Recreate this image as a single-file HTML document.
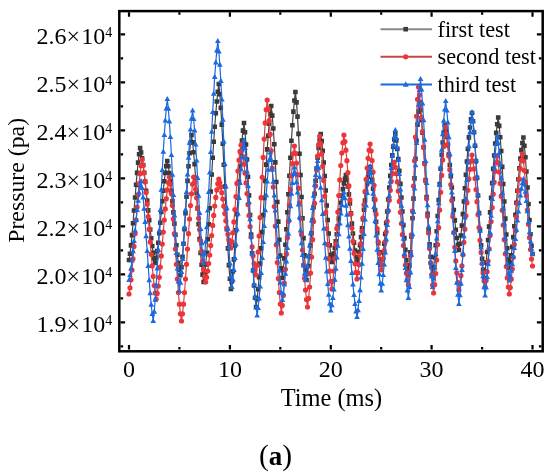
<!DOCTYPE html>
<html><head><meta charset="utf-8"><style>
html,body{margin:0;padding:0;background:#fff;width:550px;height:476px;overflow:hidden}
svg{display:block;filter:blur(0.3px)}
</style></head><body>
<svg width="550" height="476" viewBox="0 0 550 476">
<g fill="none" stroke-linejoin="round">
<path d="M129 260 130 253.8 131 245.4 132 235.1 133 223.3 134 210.5 135.1 197.5 136.1 184.7 137.1 172.9 138.1 162.6 139.1 154.2 140.1 148 141.1 152.5 142.1 158.2 143.1 165 144.1 172.8 145.1 181.5 146.1 190.9 147.2 200.6 148.2 210.4 149.2 220.1 150.2 229.5 151.2 238.2 152.2 246 153.2 252.8 154.2 258.5 155.2 263 156.2 257.9 157.2 251.1 158.3 242.8 159.3 233.3 160.3 222.8 161.3 212 162.3 201.2 163.3 190.7 164.3 181.2 165.3 172.9 166.3 166.1 167.3 161 168.3 166.2 169.3 173 170.4 181.3 171.4 190.8 172.4 201.3 173.4 212.4 174.4 223.6 175.4 234.7 176.4 245.2 177.4 254.7 178.4 263 179.4 269.8 180.4 275 181.5 267.2 182.5 256.7 183.5 243.8 184.5 229.1 185.5 213.2 186.5 196.8 187.5 180.9 188.5 166.2 189.5 153.3 190.5 142.8 191.5 135 192.6 142.4 193.6 152.2 194.6 164.1 195.6 177.9 196.6 192.9 197.6 208.5 198.6 224.1 199.6 239.1 200.6 252.9 201.6 264.8 202.6 274.6 203.6 282 204.7 274.3 205.7 264.5 206.7 252.7 207.7 239.2 208.7 224.2 209.7 208.2 210.7 191.5 211.7 174.5 212.7 157.8 213.7 141.7 214.7 126.8 215.8 113.3 216.8 101.5 217.8 91.7 218.8 84 219.8 94.3 220.8 107.9 221.8 124.6 222.8 143.8 223.8 164.7 224.8 186.5 225.8 208.3 226.8 229.2 227.9 248.4 228.9 265.1 229.9 278.7 230.9 289 231.9 281.4 232.9 271.5 233.9 259.4 234.9 245.5 235.9 230.3 236.9 214.2 237.9 197.8 239 181.7 240 166.5 241 152.6 242 140.5 243 130.6 244 123 245 132.2 246 144.5 247 159.5 248 176.7 249 195.4 250.1 215 251.1 234.6 252.1 253.3 253.1 270.5 254.1 285.5 255.1 297.8 256.1 307 257.1 299.2 258.1 289.3 259.1 277.3 260.1 263.6 261.1 248.4 262.2 232.1 263.2 215.1 264.2 197.9 265.2 180.9 266.2 164.6 267.2 149.4 268.2 135.7 269.2 123.7 270.2 113.8 271.2 106 272.2 115.6 273.3 128.5 274.3 144.3 275.3 162.4 276.3 182 277.3 202 278.3 221.6 279.3 239.7 280.3 255.5 281.3 268.4 282.3 278 283.3 269.5 284.3 258.4 285.4 244.8 286.4 229.3 287.4 212.2 288.4 194.2 289.4 175.8 290.4 157.8 291.4 140.7 292.4 125.2 293.4 111.6 294.4 100.5 295.4 92 296.5 102.4 297.5 116.6 298.5 133.9 299.5 153.7 300.5 175 301.5 197 302.5 218.3 303.5 238.1 304.5 255.4 305.5 269.6 306.5 280 307.5 273.9 308.6 266 309.6 256.4 310.6 245.4 311.6 233.3 312.6 220.3 313.6 207 314.6 193.7 315.6 180.7 316.6 168.6 317.6 157.6 318.6 148 319.7 140.1 320.7 134 321.7 141.1 322.7 150.7 323.7 162.5 324.7 176 325.7 190.5 326.7 205.5 327.7 220 328.7 233.5 329.7 245.3 330.8 254.9 331.8 262 332.8 258.3 333.8 253.6 334.8 247.9 335.8 241.4 336.8 234.2 337.8 226.4 338.8 218.5 339.8 210.6 340.8 202.8 341.8 195.6 342.9 189.1 343.9 183.4 344.9 178.7 345.9 175 346.9 179.8 347.9 186.4 348.9 194.4 349.9 203.5 350.9 213.4 351.9 223.6 352.9 233.5 354 242.6 355 250.6 356 257.2 357 262 358 257.7 359 252 360 245.1 361 237.1 362 228.4 363 219.2 364 209.8 365 200.6 366.1 191.9 367.1 183.9 368.1 177 369.1 171.3 370.1 167 371.1 172.4 372.1 179.8 373.1 188.8 374.1 199.1 375.1 210.3 376.1 221.7 377.2 232.9 378.2 243.2 379.2 252.2 380.2 259.6 381.2 265 382.2 259.5 383.2 252.4 384.2 243.8 385.2 234 386.2 223.1 387.2 211.5 388.2 199.5 389.3 187.5 390.3 175.9 391.3 165 392.3 155.2 393.3 146.6 394.3 139.5 395.3 134 396.3 140.4 397.3 148.9 398.3 159.1 399.3 170.9 400.4 183.9 401.4 197.5 402.4 211.5 403.4 225.1 404.4 238.1 405.4 249.9 406.4 260.1 407.4 268.6 408.4 275 409.4 265.4 410.4 252.4 411.4 236.5 412.5 218.3 413.5 198.6 414.5 178.4 415.5 158.7 416.5 140.5 417.5 124.6 418.5 111.6 419.5 102 420.5 109.9 421.5 120.3 422.5 132.8 423.6 147.3 424.6 163.2 425.6 180 426.6 197 427.6 213.8 428.6 229.7 429.6 244.2 430.6 256.7 431.6 267.1 432.6 275 433.6 267.5 434.7 257.5 435.7 245.3 436.7 231.3 437.7 216 438.7 200 439.7 184 440.7 168.8 441.7 154.7 442.7 142.5 443.7 132.5 444.7 125 445.7 130.2 446.8 137 447.8 145.2 448.8 154.6 449.8 165 450.8 176.1 451.8 187.5 452.8 198.9 453.8 210 454.8 220.4 455.8 229.8 456.8 238 457.9 244.8 458.9 250 459.9 243.7 460.9 235.5 461.9 225.6 462.9 214.1 463.9 201.5 464.9 188.3 465.9 174.7 466.9 161.5 467.9 148.9 468.9 137.4 470 127.5 471 119.3 472 113 473 121.3 474 132.3 475 145.7 476 161.1 477 177.9 478 195.5 479 213.1 480 229.9 481.1 245.3 482.1 258.7 483.1 269.7 484.1 278 485.1 271.3 486.1 262.6 487.1 252 488.1 240 489.1 226.6 490.1 212.4 491.1 197.8 492.2 183.1 493.2 168.9 494.2 155.5 495.2 143.5 496.2 132.9 497.2 124.2 498.2 117.5 499.2 125.9 500.2 137.2 501.2 151 502.2 166.9 503.2 184 504.3 201.5 505.3 218.6 506.3 234.5 507.3 248.3 508.3 259.6 509.3 268 510.3 262.5 511.3 255.4 512.3 246.9 513.3 237.1 514.3 226.2 515.4 214.7 516.4 202.7 517.4 190.8 518.4 179.3 519.4 168.4 520.4 158.6 521.4 150.1 522.4 143 523.4 137.5 524.4 145.7 525.4 157.3 526.4 171.5 527.5 187.5 528.5 204 529.5 220 530.5 234.2 531.5 245.8 532.5 254" stroke="#444" stroke-width="1.2"/>
<path d="M126.7 257.7h4.6v4.6h-4.6zM127.7 251.5h4.6v4.6h-4.6zM128.7 243.1h4.6v4.6h-4.6zM129.7 232.8h4.6v4.6h-4.6zM130.7 221h4.6v4.6h-4.6zM131.7 208.2h4.6v4.6h-4.6zM132.8 195.2h4.6v4.6h-4.6zM133.8 182.4h4.6v4.6h-4.6zM134.8 170.6h4.6v4.6h-4.6zM135.8 160.3h4.6v4.6h-4.6zM136.8 151.9h4.6v4.6h-4.6zM137.8 145.7h4.6v4.6h-4.6zM138.8 150.2h4.6v4.6h-4.6zM139.8 155.9h4.6v4.6h-4.6zM140.8 162.7h4.6v4.6h-4.6zM141.8 170.5h4.6v4.6h-4.6zM142.8 179.2h4.6v4.6h-4.6zM143.8 188.6h4.6v4.6h-4.6zM144.9 198.3h4.6v4.6h-4.6zM145.9 208.1h4.6v4.6h-4.6zM146.9 217.8h4.6v4.6h-4.6zM147.9 227.2h4.6v4.6h-4.6zM148.9 235.9h4.6v4.6h-4.6zM149.9 243.7h4.6v4.6h-4.6zM150.9 250.5h4.6v4.6h-4.6zM151.9 256.2h4.6v4.6h-4.6zM152.9 260.7h4.6v4.6h-4.6zM153.9 255.6h4.6v4.6h-4.6zM154.9 248.8h4.6v4.6h-4.6zM156 240.5h4.6v4.6h-4.6zM157 231h4.6v4.6h-4.6zM158 220.5h4.6v4.6h-4.6zM159 209.7h4.6v4.6h-4.6zM160 198.9h4.6v4.6h-4.6zM161 188.4h4.6v4.6h-4.6zM162 178.9h4.6v4.6h-4.6zM163 170.6h4.6v4.6h-4.6zM164 163.8h4.6v4.6h-4.6zM165 158.7h4.6v4.6h-4.6zM166 163.9h4.6v4.6h-4.6zM167 170.7h4.6v4.6h-4.6zM168.1 179h4.6v4.6h-4.6zM169.1 188.5h4.6v4.6h-4.6zM170.1 199h4.6v4.6h-4.6zM171.1 210.1h4.6v4.6h-4.6zM172.1 221.3h4.6v4.6h-4.6zM173.1 232.4h4.6v4.6h-4.6zM174.1 242.9h4.6v4.6h-4.6zM175.1 252.4h4.6v4.6h-4.6zM176.1 260.7h4.6v4.6h-4.6zM177.1 267.5h4.6v4.6h-4.6zM178.1 272.7h4.6v4.6h-4.6zM179.2 264.9h4.6v4.6h-4.6zM180.2 254.4h4.6v4.6h-4.6zM181.2 241.5h4.6v4.6h-4.6zM182.2 226.8h4.6v4.6h-4.6zM183.2 210.9h4.6v4.6h-4.6zM184.2 194.5h4.6v4.6h-4.6zM185.2 178.6h4.6v4.6h-4.6zM186.2 163.9h4.6v4.6h-4.6zM187.2 151h4.6v4.6h-4.6zM188.2 140.5h4.6v4.6h-4.6zM189.2 132.7h4.6v4.6h-4.6zM190.3 140.1h4.6v4.6h-4.6zM191.3 149.9h4.6v4.6h-4.6zM192.3 161.8h4.6v4.6h-4.6zM193.3 175.6h4.6v4.6h-4.6zM194.3 190.6h4.6v4.6h-4.6zM195.3 206.2h4.6v4.6h-4.6zM196.3 221.8h4.6v4.6h-4.6zM197.3 236.8h4.6v4.6h-4.6zM198.3 250.6h4.6v4.6h-4.6zM199.3 262.5h4.6v4.6h-4.6zM200.3 272.3h4.6v4.6h-4.6zM201.3 279.7h4.6v4.6h-4.6zM202.4 272h4.6v4.6h-4.6zM203.4 262.2h4.6v4.6h-4.6zM204.4 250.4h4.6v4.6h-4.6zM205.4 236.9h4.6v4.6h-4.6zM206.4 221.9h4.6v4.6h-4.6zM207.4 205.9h4.6v4.6h-4.6zM208.4 189.2h4.6v4.6h-4.6zM209.4 172.2h4.6v4.6h-4.6zM210.4 155.5h4.6v4.6h-4.6zM211.4 139.4h4.6v4.6h-4.6zM212.4 124.5h4.6v4.6h-4.6zM213.5 111h4.6v4.6h-4.6zM214.5 99.2h4.6v4.6h-4.6zM215.5 89.4h4.6v4.6h-4.6zM216.5 81.7h4.6v4.6h-4.6zM217.5 92h4.6v4.6h-4.6zM218.5 105.6h4.6v4.6h-4.6zM219.5 122.3h4.6v4.6h-4.6zM220.5 141.5h4.6v4.6h-4.6zM221.5 162.4h4.6v4.6h-4.6zM222.5 184.2h4.6v4.6h-4.6zM223.5 206h4.6v4.6h-4.6zM224.5 226.9h4.6v4.6h-4.6zM225.6 246.1h4.6v4.6h-4.6zM226.6 262.8h4.6v4.6h-4.6zM227.6 276.4h4.6v4.6h-4.6zM228.6 286.7h4.6v4.6h-4.6zM229.6 279.1h4.6v4.6h-4.6zM230.6 269.2h4.6v4.6h-4.6zM231.6 257.1h4.6v4.6h-4.6zM232.6 243.2h4.6v4.6h-4.6zM233.6 228h4.6v4.6h-4.6zM234.6 211.9h4.6v4.6h-4.6zM235.6 195.5h4.6v4.6h-4.6zM236.7 179.4h4.6v4.6h-4.6zM237.7 164.2h4.6v4.6h-4.6zM238.7 150.3h4.6v4.6h-4.6zM239.7 138.2h4.6v4.6h-4.6zM240.7 128.3h4.6v4.6h-4.6zM241.7 120.7h4.6v4.6h-4.6zM242.7 129.9h4.6v4.6h-4.6zM243.7 142.2h4.6v4.6h-4.6zM244.7 157.2h4.6v4.6h-4.6zM245.7 174.4h4.6v4.6h-4.6zM246.7 193.1h4.6v4.6h-4.6zM247.8 212.7h4.6v4.6h-4.6zM248.8 232.3h4.6v4.6h-4.6zM249.8 251h4.6v4.6h-4.6zM250.8 268.2h4.6v4.6h-4.6zM251.8 283.2h4.6v4.6h-4.6zM252.8 295.5h4.6v4.6h-4.6zM253.8 304.7h4.6v4.6h-4.6zM254.8 296.9h4.6v4.6h-4.6zM255.8 287h4.6v4.6h-4.6zM256.8 275h4.6v4.6h-4.6zM257.8 261.3h4.6v4.6h-4.6zM258.8 246.1h4.6v4.6h-4.6zM259.9 229.8h4.6v4.6h-4.6zM260.9 212.8h4.6v4.6h-4.6zM261.9 195.6h4.6v4.6h-4.6zM262.9 178.6h4.6v4.6h-4.6zM263.9 162.3h4.6v4.6h-4.6zM264.9 147.1h4.6v4.6h-4.6zM265.9 133.4h4.6v4.6h-4.6zM266.9 121.4h4.6v4.6h-4.6zM267.9 111.5h4.6v4.6h-4.6zM268.9 103.7h4.6v4.6h-4.6zM269.9 113.3h4.6v4.6h-4.6zM271 126.2h4.6v4.6h-4.6zM272 142h4.6v4.6h-4.6zM273 160.1h4.6v4.6h-4.6zM274 179.7h4.6v4.6h-4.6zM275 199.7h4.6v4.6h-4.6zM276 219.3h4.6v4.6h-4.6zM277 237.4h4.6v4.6h-4.6zM278 253.2h4.6v4.6h-4.6zM279 266.1h4.6v4.6h-4.6zM280 275.7h4.6v4.6h-4.6zM281 267.2h4.6v4.6h-4.6zM282 256.1h4.6v4.6h-4.6zM283.1 242.5h4.6v4.6h-4.6zM284.1 227h4.6v4.6h-4.6zM285.1 209.9h4.6v4.6h-4.6zM286.1 191.9h4.6v4.6h-4.6zM287.1 173.5h4.6v4.6h-4.6zM288.1 155.5h4.6v4.6h-4.6zM289.1 138.4h4.6v4.6h-4.6zM290.1 122.9h4.6v4.6h-4.6zM291.1 109.3h4.6v4.6h-4.6zM292.1 98.2h4.6v4.6h-4.6zM293.1 89.7h4.6v4.6h-4.6zM294.2 100.1h4.6v4.6h-4.6zM295.2 114.3h4.6v4.6h-4.6zM296.2 131.6h4.6v4.6h-4.6zM297.2 151.4h4.6v4.6h-4.6zM298.2 172.7h4.6v4.6h-4.6zM299.2 194.7h4.6v4.6h-4.6zM300.2 216h4.6v4.6h-4.6zM301.2 235.8h4.6v4.6h-4.6zM302.2 253.1h4.6v4.6h-4.6zM303.2 267.3h4.6v4.6h-4.6zM304.2 277.7h4.6v4.6h-4.6zM305.2 271.6h4.6v4.6h-4.6zM306.3 263.7h4.6v4.6h-4.6zM307.3 254.1h4.6v4.6h-4.6zM308.3 243.1h4.6v4.6h-4.6zM309.3 231h4.6v4.6h-4.6zM310.3 218h4.6v4.6h-4.6zM311.3 204.7h4.6v4.6h-4.6zM312.3 191.4h4.6v4.6h-4.6zM313.3 178.4h4.6v4.6h-4.6zM314.3 166.3h4.6v4.6h-4.6zM315.3 155.3h4.6v4.6h-4.6zM316.3 145.7h4.6v4.6h-4.6zM317.4 137.8h4.6v4.6h-4.6zM318.4 131.7h4.6v4.6h-4.6zM319.4 138.8h4.6v4.6h-4.6zM320.4 148.4h4.6v4.6h-4.6zM321.4 160.2h4.6v4.6h-4.6zM322.4 173.7h4.6v4.6h-4.6zM323.4 188.2h4.6v4.6h-4.6zM324.4 203.2h4.6v4.6h-4.6zM325.4 217.7h4.6v4.6h-4.6zM326.4 231.2h4.6v4.6h-4.6zM327.4 243h4.6v4.6h-4.6zM328.4 252.6h4.6v4.6h-4.6zM329.5 259.7h4.6v4.6h-4.6zM330.5 256h4.6v4.6h-4.6zM331.5 251.3h4.6v4.6h-4.6zM332.5 245.6h4.6v4.6h-4.6zM333.5 239.1h4.6v4.6h-4.6zM334.5 231.9h4.6v4.6h-4.6zM335.5 224.1h4.6v4.6h-4.6zM336.5 216.2h4.6v4.6h-4.6zM337.5 208.3h4.6v4.6h-4.6zM338.5 200.5h4.6v4.6h-4.6zM339.5 193.3h4.6v4.6h-4.6zM340.6 186.8h4.6v4.6h-4.6zM341.6 181.1h4.6v4.6h-4.6zM342.6 176.4h4.6v4.6h-4.6zM343.6 172.7h4.6v4.6h-4.6zM344.6 177.5h4.6v4.6h-4.6zM345.6 184.1h4.6v4.6h-4.6zM346.6 192.1h4.6v4.6h-4.6zM347.6 201.2h4.6v4.6h-4.6zM348.6 211.1h4.6v4.6h-4.6zM349.6 221.3h4.6v4.6h-4.6zM350.6 231.2h4.6v4.6h-4.6zM351.7 240.3h4.6v4.6h-4.6zM352.7 248.3h4.6v4.6h-4.6zM353.7 254.9h4.6v4.6h-4.6zM354.7 259.7h4.6v4.6h-4.6zM355.7 255.4h4.6v4.6h-4.6zM356.7 249.7h4.6v4.6h-4.6zM357.7 242.8h4.6v4.6h-4.6zM358.7 234.8h4.6v4.6h-4.6zM359.7 226.1h4.6v4.6h-4.6zM360.7 216.9h4.6v4.6h-4.6zM361.7 207.5h4.6v4.6h-4.6zM362.7 198.3h4.6v4.6h-4.6zM363.8 189.6h4.6v4.6h-4.6zM364.8 181.6h4.6v4.6h-4.6zM365.8 174.7h4.6v4.6h-4.6zM366.8 169h4.6v4.6h-4.6zM367.8 164.7h4.6v4.6h-4.6zM368.8 170.1h4.6v4.6h-4.6zM369.8 177.5h4.6v4.6h-4.6zM370.8 186.5h4.6v4.6h-4.6zM371.8 196.8h4.6v4.6h-4.6zM372.8 208h4.6v4.6h-4.6zM373.8 219.4h4.6v4.6h-4.6zM374.9 230.6h4.6v4.6h-4.6zM375.9 240.9h4.6v4.6h-4.6zM376.9 249.9h4.6v4.6h-4.6zM377.9 257.3h4.6v4.6h-4.6zM378.9 262.7h4.6v4.6h-4.6zM379.9 257.2h4.6v4.6h-4.6zM380.9 250.1h4.6v4.6h-4.6zM381.9 241.5h4.6v4.6h-4.6zM382.9 231.7h4.6v4.6h-4.6zM383.9 220.8h4.6v4.6h-4.6zM384.9 209.2h4.6v4.6h-4.6zM385.9 197.2h4.6v4.6h-4.6zM387 185.2h4.6v4.6h-4.6zM388 173.6h4.6v4.6h-4.6zM389 162.7h4.6v4.6h-4.6zM390 152.9h4.6v4.6h-4.6zM391 144.3h4.6v4.6h-4.6zM392 137.2h4.6v4.6h-4.6zM393 131.7h4.6v4.6h-4.6zM394 138.1h4.6v4.6h-4.6zM395 146.6h4.6v4.6h-4.6zM396 156.8h4.6v4.6h-4.6zM397 168.6h4.6v4.6h-4.6zM398.1 181.6h4.6v4.6h-4.6zM399.1 195.2h4.6v4.6h-4.6zM400.1 209.2h4.6v4.6h-4.6zM401.1 222.8h4.6v4.6h-4.6zM402.1 235.8h4.6v4.6h-4.6zM403.1 247.6h4.6v4.6h-4.6zM404.1 257.8h4.6v4.6h-4.6zM405.1 266.3h4.6v4.6h-4.6zM406.1 272.7h4.6v4.6h-4.6zM407.1 263.1h4.6v4.6h-4.6zM408.1 250.1h4.6v4.6h-4.6zM409.1 234.2h4.6v4.6h-4.6zM410.2 216h4.6v4.6h-4.6zM411.2 196.3h4.6v4.6h-4.6zM412.2 176.1h4.6v4.6h-4.6zM413.2 156.4h4.6v4.6h-4.6zM414.2 138.2h4.6v4.6h-4.6zM415.2 122.3h4.6v4.6h-4.6zM416.2 109.3h4.6v4.6h-4.6zM417.2 99.7h4.6v4.6h-4.6zM418.2 107.6h4.6v4.6h-4.6zM419.2 118h4.6v4.6h-4.6zM420.2 130.5h4.6v4.6h-4.6zM421.3 145h4.6v4.6h-4.6zM422.3 160.9h4.6v4.6h-4.6zM423.3 177.7h4.6v4.6h-4.6zM424.3 194.7h4.6v4.6h-4.6zM425.3 211.5h4.6v4.6h-4.6zM426.3 227.4h4.6v4.6h-4.6zM427.3 241.9h4.6v4.6h-4.6zM428.3 254.4h4.6v4.6h-4.6zM429.3 264.8h4.6v4.6h-4.6zM430.3 272.7h4.6v4.6h-4.6zM431.3 265.2h4.6v4.6h-4.6zM432.4 255.2h4.6v4.6h-4.6zM433.4 243h4.6v4.6h-4.6zM434.4 229h4.6v4.6h-4.6zM435.4 213.7h4.6v4.6h-4.6zM436.4 197.7h4.6v4.6h-4.6zM437.4 181.7h4.6v4.6h-4.6zM438.4 166.5h4.6v4.6h-4.6zM439.4 152.4h4.6v4.6h-4.6zM440.4 140.2h4.6v4.6h-4.6zM441.4 130.2h4.6v4.6h-4.6zM442.4 122.7h4.6v4.6h-4.6zM443.4 127.9h4.6v4.6h-4.6zM444.5 134.7h4.6v4.6h-4.6zM445.5 142.9h4.6v4.6h-4.6zM446.5 152.3h4.6v4.6h-4.6zM447.5 162.7h4.6v4.6h-4.6zM448.5 173.8h4.6v4.6h-4.6zM449.5 185.2h4.6v4.6h-4.6zM450.5 196.6h4.6v4.6h-4.6zM451.5 207.7h4.6v4.6h-4.6zM452.5 218.1h4.6v4.6h-4.6zM453.5 227.5h4.6v4.6h-4.6zM454.5 235.7h4.6v4.6h-4.6zM455.6 242.5h4.6v4.6h-4.6zM456.6 247.7h4.6v4.6h-4.6zM457.6 241.4h4.6v4.6h-4.6zM458.6 233.2h4.6v4.6h-4.6zM459.6 223.3h4.6v4.6h-4.6zM460.6 211.8h4.6v4.6h-4.6zM461.6 199.2h4.6v4.6h-4.6zM462.6 186h4.6v4.6h-4.6zM463.6 172.4h4.6v4.6h-4.6zM464.6 159.2h4.6v4.6h-4.6zM465.6 146.6h4.6v4.6h-4.6zM466.6 135.1h4.6v4.6h-4.6zM467.7 125.2h4.6v4.6h-4.6zM468.7 117h4.6v4.6h-4.6zM469.7 110.7h4.6v4.6h-4.6zM470.7 119h4.6v4.6h-4.6zM471.7 130h4.6v4.6h-4.6zM472.7 143.4h4.6v4.6h-4.6zM473.7 158.8h4.6v4.6h-4.6zM474.7 175.6h4.6v4.6h-4.6zM475.7 193.2h4.6v4.6h-4.6zM476.7 210.8h4.6v4.6h-4.6zM477.7 227.6h4.6v4.6h-4.6zM478.8 243h4.6v4.6h-4.6zM479.8 256.4h4.6v4.6h-4.6zM480.8 267.4h4.6v4.6h-4.6zM481.8 275.7h4.6v4.6h-4.6zM482.8 269h4.6v4.6h-4.6zM483.8 260.3h4.6v4.6h-4.6zM484.8 249.7h4.6v4.6h-4.6zM485.8 237.7h4.6v4.6h-4.6zM486.8 224.3h4.6v4.6h-4.6zM487.8 210.1h4.6v4.6h-4.6zM488.8 195.4h4.6v4.6h-4.6zM489.9 180.8h4.6v4.6h-4.6zM490.9 166.6h4.6v4.6h-4.6zM491.9 153.2h4.6v4.6h-4.6zM492.9 141.2h4.6v4.6h-4.6zM493.9 130.6h4.6v4.6h-4.6zM494.9 121.9h4.6v4.6h-4.6zM495.9 115.2h4.6v4.6h-4.6zM496.9 123.6h4.6v4.6h-4.6zM497.9 134.9h4.6v4.6h-4.6zM498.9 148.7h4.6v4.6h-4.6zM499.9 164.6h4.6v4.6h-4.6zM500.9 181.7h4.6v4.6h-4.6zM502 199.2h4.6v4.6h-4.6zM503 216.3h4.6v4.6h-4.6zM504 232.2h4.6v4.6h-4.6zM505 246h4.6v4.6h-4.6zM506 257.3h4.6v4.6h-4.6zM507 265.7h4.6v4.6h-4.6zM508 260.2h4.6v4.6h-4.6zM509 253.1h4.6v4.6h-4.6zM510 244.6h4.6v4.6h-4.6zM511 234.8h4.6v4.6h-4.6zM512 223.9h4.6v4.6h-4.6zM513.1 212.4h4.6v4.6h-4.6zM514.1 200.4h4.6v4.6h-4.6zM515.1 188.5h4.6v4.6h-4.6zM516.1 177h4.6v4.6h-4.6zM517.1 166.1h4.6v4.6h-4.6zM518.1 156.3h4.6v4.6h-4.6zM519.1 147.8h4.6v4.6h-4.6zM520.1 140.7h4.6v4.6h-4.6zM521.1 135.2h4.6v4.6h-4.6zM522.1 143.4h4.6v4.6h-4.6zM523.1 155h4.6v4.6h-4.6zM524.1 169.2h4.6v4.6h-4.6zM525.2 185.2h4.6v4.6h-4.6zM526.2 201.7h4.6v4.6h-4.6zM527.2 217.7h4.6v4.6h-4.6zM528.2 231.9h4.6v4.6h-4.6zM529.2 243.5h4.6v4.6h-4.6zM530.2 251.7h4.6v4.6h-4.6z" fill="#3a3a3a"/>
<path d="M129 294 130 287.8 131 279.8 132 270 133 258.8 134 246.4 135.1 233.4 136.1 220.1 137.1 207.1 138.1 194.7 139.1 183.5 140.1 173.7 141.1 165.7 142.1 159.5 143.1 165.4 144.1 172.9 145.1 182.1 146.1 192.6 147.2 204.2 148.2 216.5 149.2 229.2 150.2 242 151.2 254.3 152.2 265.9 153.2 276.4 154.2 285.6 155.2 293.1 156.2 299 157.2 293.4 158.3 286.1 159.3 277.3 160.3 267.1 161.3 255.9 162.3 244 163.3 232 164.3 220.1 165.3 208.9 166.3 198.7 167.3 189.9 168.3 182.6 169.3 177 170.4 184.2 171.4 193.8 172.4 205.5 173.4 219 174.4 233.7 175.4 249 176.4 264.3 177.4 279 178.4 292.5 179.4 304.2 180.4 313.8 181.5 321 182.5 313.8 183.5 304.2 184.5 292.5 185.5 279 186.5 264.3 187.5 249 188.5 233.7 189.5 219 190.5 205.5 191.5 193.8 192.6 184.2 193.6 177 194.6 182.3 195.6 189.3 196.6 197.8 197.6 207.6 198.6 218.3 199.6 229.5 200.6 240.7 201.6 251.4 202.6 261.2 203.6 269.7 204.7 276.7 205.7 282 206.7 277.3 207.7 271.1 208.7 263.6 209.7 255 210.7 245.6 211.7 235.6 212.7 225.4 213.7 215.4 214.7 206 215.8 197.4 216.8 189.9 217.8 183.7 218.8 179 219.8 182.5 220.8 187.1 221.8 192.7 222.8 199.1 223.8 206.2 224.8 213.5 225.8 220.8 226.8 227.9 227.9 234.3 228.9 239.9 229.9 244.5 230.9 248 231.9 241.6 232.9 232.8 233.9 221.9 234.9 209.6 235.9 196.5 236.9 183.4 237.9 171.1 239 160.2 240 151.4 241 145 242 150 243 156.5 244 164.2 245 173.1 246 182.9 247 193.5 248 204.4 249 215.6 250.1 226.5 251.1 237.1 252.1 246.9 253.1 255.8 254.1 263.5 255.1 270 256.1 275 257.1 265.3 258.1 252.1 259.1 236 260.1 217.6 261.1 197.7 262.2 177.3 263.2 157.4 264.2 139 265.2 122.9 266.2 109.7 267.2 100 268.2 108.9 269.2 120.5 270.2 134.4 271.2 150.5 272.2 168.2 273.3 187 274.3 206.5 275.3 226 276.3 244.8 277.3 262.5 278.3 278.6 279.3 292.5 280.3 304.1 281.3 313 282.3 305.4 283.3 295.4 284.3 283.2 285.4 269.3 286.4 253.9 287.4 237.7 288.4 221.3 289.4 205.1 290.4 189.7 291.4 175.8 292.4 163.6 293.4 153.6 294.4 146 295.4 153.4 296.5 163 297.5 174.7 298.5 188.2 299.5 202.9 300.5 218.6 301.5 234.4 302.5 250.1 303.5 264.8 304.5 278.3 305.5 290 306.5 299.6 307.5 307 308.6 298.4 309.6 287 310.6 273.1 311.6 257.1 312.6 239.7 313.6 221.5 314.6 203.3 315.6 185.9 316.6 169.9 317.6 156 318.6 144.6 319.7 136 320.7 143.7 321.7 153.9 322.7 166.3 323.7 180.6 324.7 196.2 325.7 212.5 326.7 228.8 327.7 244.4 328.7 258.7 329.7 271.1 330.8 281.3 331.8 289 332.8 281.3 333.8 271 334.8 258.5 335.8 244.1 336.8 228.4 337.8 212 338.8 195.6 339.8 179.9 340.8 165.5 341.8 153 342.9 142.7 343.9 135 344.9 141.6 345.9 150.2 346.9 160.7 347.9 172.7 348.9 185.9 349.9 199.9 350.9 214.1 351.9 228.1 352.9 241.3 354 253.3 355 263.8 356 272.4 357 279 358 272.8 359 264.7 360 254.9 361 243.7 362 231.3 363 218.2 364 204.8 365 191.7 366.1 179.3 367.1 168.1 368.1 158.3 369.1 150.2 370.1 144 371.1 151 372.1 160.5 373.1 172.1 374.1 185.3 375.1 199.7 376.1 214.3 377.2 228.7 378.2 241.9 379.2 253.5 380.2 263 381.2 270 382.2 265.1 383.2 258.6 384.2 250.7 385.2 241.7 386.2 231.8 387.2 221.3 388.2 210.7 389.3 200.2 390.3 190.3 391.3 181.3 392.3 173.4 393.3 166.9 394.3 162 395.3 167.2 396.3 173.8 397.3 181.9 398.3 191.1 399.3 201.4 400.4 212.3 401.4 223.5 402.4 234.7 403.4 245.6 404.4 255.9 405.4 265.1 406.4 273.2 407.4 279.8 408.4 285 409.4 272.7 410.4 255.7 411.4 234.9 412.5 211.2 413.5 186 414.5 160.8 415.5 137.1 416.5 116.3 417.5 99.3 418.5 87 419.5 95 420.5 105.2 421.5 117.4 422.5 131.5 423.6 147.1 424.6 163.8 425.6 181.2 426.6 198.8 427.6 216.2 428.6 232.9 429.6 248.5 430.6 262.6 431.6 274.8 432.6 285 433.6 293 434.7 284.7 435.7 273.6 436.7 260.1 437.7 244.6 438.7 227.7 439.7 210 440.7 192.3 441.7 175.4 442.7 159.9 443.7 146.4 444.7 135.3 445.7 127 446.8 134.5 447.8 144.2 448.8 156.1 449.8 169.7 450.8 184.6 451.8 200.5 452.8 216.5 453.8 232.4 454.8 247.3 455.8 260.9 456.8 272.8 457.9 282.5 458.9 290 459.9 283.8 460.9 275.7 461.9 265.9 462.9 254.7 463.9 242.3 464.9 229.2 465.9 215.8 466.9 202.7 467.9 190.3 468.9 179.1 470 169.3 471 161.2 472 155 473 161 474 168.9 475 178.5 476 189.6 477 201.7 478 214.5 479 227.5 480 240.3 481.1 252.4 482.1 263.5 483.1 273.1 484.1 281 485.1 287 486.1 280.4 487.1 271.7 488.1 261 489.1 248.8 490.1 235.4 491.1 221.5 492.2 207.6 493.2 194.2 494.2 182 495.2 171.3 496.2 162.6 497.2 156 498.2 162.9 499.2 172.1 500.2 183.4 501.2 196.2 502.2 210.3 503.2 225 504.3 239.7 505.3 253.8 506.3 266.6 507.3 277.9 508.3 287.1 509.3 294 510.3 287.6 511.3 279.2 512.3 269 513.3 257.3 514.3 244.5 515.4 230.9 516.4 217.1 517.4 203.5 518.4 190.7 519.4 179 520.4 168.8 521.4 160.4 522.4 154 523.4 161 524.4 170.5 525.4 182.3 526.4 195.7 527.5 210 528.5 224.3 529.5 237.7 530.5 249.5 531.5 259 532.5 266" stroke="#d84040" stroke-width="1.2"/>
<path d="M126.4 294a2.6 2.6 0 1 0 5.2 0a2.6 2.6 0 1 0 -5.2 0zM127.4 287.8a2.6 2.6 0 1 0 5.2 0a2.6 2.6 0 1 0 -5.2 0zM128.4 279.8a2.6 2.6 0 1 0 5.2 0a2.6 2.6 0 1 0 -5.2 0zM129.4 270a2.6 2.6 0 1 0 5.2 0a2.6 2.6 0 1 0 -5.2 0zM130.4 258.8a2.6 2.6 0 1 0 5.2 0a2.6 2.6 0 1 0 -5.2 0zM131.4 246.4a2.6 2.6 0 1 0 5.2 0a2.6 2.6 0 1 0 -5.2 0zM132.5 233.4a2.6 2.6 0 1 0 5.2 0a2.6 2.6 0 1 0 -5.2 0zM133.5 220.1a2.6 2.6 0 1 0 5.2 0a2.6 2.6 0 1 0 -5.2 0zM134.5 207.1a2.6 2.6 0 1 0 5.2 0a2.6 2.6 0 1 0 -5.2 0zM135.5 194.7a2.6 2.6 0 1 0 5.2 0a2.6 2.6 0 1 0 -5.2 0zM136.5 183.5a2.6 2.6 0 1 0 5.2 0a2.6 2.6 0 1 0 -5.2 0zM137.5 173.7a2.6 2.6 0 1 0 5.2 0a2.6 2.6 0 1 0 -5.2 0zM138.5 165.7a2.6 2.6 0 1 0 5.2 0a2.6 2.6 0 1 0 -5.2 0zM139.5 159.5a2.6 2.6 0 1 0 5.2 0a2.6 2.6 0 1 0 -5.2 0zM140.5 165.4a2.6 2.6 0 1 0 5.2 0a2.6 2.6 0 1 0 -5.2 0zM141.5 172.9a2.6 2.6 0 1 0 5.2 0a2.6 2.6 0 1 0 -5.2 0zM142.5 182.1a2.6 2.6 0 1 0 5.2 0a2.6 2.6 0 1 0 -5.2 0zM143.5 192.6a2.6 2.6 0 1 0 5.2 0a2.6 2.6 0 1 0 -5.2 0zM144.6 204.2a2.6 2.6 0 1 0 5.2 0a2.6 2.6 0 1 0 -5.2 0zM145.6 216.5a2.6 2.6 0 1 0 5.2 0a2.6 2.6 0 1 0 -5.2 0zM146.6 229.2a2.6 2.6 0 1 0 5.2 0a2.6 2.6 0 1 0 -5.2 0zM147.6 242a2.6 2.6 0 1 0 5.2 0a2.6 2.6 0 1 0 -5.2 0zM148.6 254.3a2.6 2.6 0 1 0 5.2 0a2.6 2.6 0 1 0 -5.2 0zM149.6 265.9a2.6 2.6 0 1 0 5.2 0a2.6 2.6 0 1 0 -5.2 0zM150.6 276.4a2.6 2.6 0 1 0 5.2 0a2.6 2.6 0 1 0 -5.2 0zM151.6 285.6a2.6 2.6 0 1 0 5.2 0a2.6 2.6 0 1 0 -5.2 0zM152.6 293.1a2.6 2.6 0 1 0 5.2 0a2.6 2.6 0 1 0 -5.2 0zM153.6 299a2.6 2.6 0 1 0 5.2 0a2.6 2.6 0 1 0 -5.2 0zM154.6 293.4a2.6 2.6 0 1 0 5.2 0a2.6 2.6 0 1 0 -5.2 0zM155.7 286.1a2.6 2.6 0 1 0 5.2 0a2.6 2.6 0 1 0 -5.2 0zM156.7 277.3a2.6 2.6 0 1 0 5.2 0a2.6 2.6 0 1 0 -5.2 0zM157.7 267.1a2.6 2.6 0 1 0 5.2 0a2.6 2.6 0 1 0 -5.2 0zM158.7 255.9a2.6 2.6 0 1 0 5.2 0a2.6 2.6 0 1 0 -5.2 0zM159.7 244a2.6 2.6 0 1 0 5.2 0a2.6 2.6 0 1 0 -5.2 0zM160.7 232a2.6 2.6 0 1 0 5.2 0a2.6 2.6 0 1 0 -5.2 0zM161.7 220.1a2.6 2.6 0 1 0 5.2 0a2.6 2.6 0 1 0 -5.2 0zM162.7 208.9a2.6 2.6 0 1 0 5.2 0a2.6 2.6 0 1 0 -5.2 0zM163.7 198.7a2.6 2.6 0 1 0 5.2 0a2.6 2.6 0 1 0 -5.2 0zM164.7 189.9a2.6 2.6 0 1 0 5.2 0a2.6 2.6 0 1 0 -5.2 0zM165.7 182.6a2.6 2.6 0 1 0 5.2 0a2.6 2.6 0 1 0 -5.2 0zM166.8 177a2.6 2.6 0 1 0 5.2 0a2.6 2.6 0 1 0 -5.2 0zM167.8 184.2a2.6 2.6 0 1 0 5.2 0a2.6 2.6 0 1 0 -5.2 0zM168.8 193.8a2.6 2.6 0 1 0 5.2 0a2.6 2.6 0 1 0 -5.2 0zM169.8 205.5a2.6 2.6 0 1 0 5.2 0a2.6 2.6 0 1 0 -5.2 0zM170.8 219a2.6 2.6 0 1 0 5.2 0a2.6 2.6 0 1 0 -5.2 0zM171.8 233.7a2.6 2.6 0 1 0 5.2 0a2.6 2.6 0 1 0 -5.2 0zM172.8 249a2.6 2.6 0 1 0 5.2 0a2.6 2.6 0 1 0 -5.2 0zM173.8 264.3a2.6 2.6 0 1 0 5.2 0a2.6 2.6 0 1 0 -5.2 0zM174.8 279a2.6 2.6 0 1 0 5.2 0a2.6 2.6 0 1 0 -5.2 0zM175.8 292.5a2.6 2.6 0 1 0 5.2 0a2.6 2.6 0 1 0 -5.2 0zM176.8 304.2a2.6 2.6 0 1 0 5.2 0a2.6 2.6 0 1 0 -5.2 0zM177.8 313.8a2.6 2.6 0 1 0 5.2 0a2.6 2.6 0 1 0 -5.2 0zM178.9 321a2.6 2.6 0 1 0 5.2 0a2.6 2.6 0 1 0 -5.2 0zM179.9 313.8a2.6 2.6 0 1 0 5.2 0a2.6 2.6 0 1 0 -5.2 0zM180.9 304.2a2.6 2.6 0 1 0 5.2 0a2.6 2.6 0 1 0 -5.2 0zM181.9 292.5a2.6 2.6 0 1 0 5.2 0a2.6 2.6 0 1 0 -5.2 0zM182.9 279a2.6 2.6 0 1 0 5.2 0a2.6 2.6 0 1 0 -5.2 0zM183.9 264.3a2.6 2.6 0 1 0 5.2 0a2.6 2.6 0 1 0 -5.2 0zM184.9 249a2.6 2.6 0 1 0 5.2 0a2.6 2.6 0 1 0 -5.2 0zM185.9 233.7a2.6 2.6 0 1 0 5.2 0a2.6 2.6 0 1 0 -5.2 0zM186.9 219a2.6 2.6 0 1 0 5.2 0a2.6 2.6 0 1 0 -5.2 0zM187.9 205.5a2.6 2.6 0 1 0 5.2 0a2.6 2.6 0 1 0 -5.2 0zM188.9 193.8a2.6 2.6 0 1 0 5.2 0a2.6 2.6 0 1 0 -5.2 0zM190 184.2a2.6 2.6 0 1 0 5.2 0a2.6 2.6 0 1 0 -5.2 0zM191 177a2.6 2.6 0 1 0 5.2 0a2.6 2.6 0 1 0 -5.2 0zM192 182.3a2.6 2.6 0 1 0 5.2 0a2.6 2.6 0 1 0 -5.2 0zM193 189.3a2.6 2.6 0 1 0 5.2 0a2.6 2.6 0 1 0 -5.2 0zM194 197.8a2.6 2.6 0 1 0 5.2 0a2.6 2.6 0 1 0 -5.2 0zM195 207.6a2.6 2.6 0 1 0 5.2 0a2.6 2.6 0 1 0 -5.2 0zM196 218.3a2.6 2.6 0 1 0 5.2 0a2.6 2.6 0 1 0 -5.2 0zM197 229.5a2.6 2.6 0 1 0 5.2 0a2.6 2.6 0 1 0 -5.2 0zM198 240.7a2.6 2.6 0 1 0 5.2 0a2.6 2.6 0 1 0 -5.2 0zM199 251.4a2.6 2.6 0 1 0 5.2 0a2.6 2.6 0 1 0 -5.2 0zM200 261.2a2.6 2.6 0 1 0 5.2 0a2.6 2.6 0 1 0 -5.2 0zM201 269.7a2.6 2.6 0 1 0 5.2 0a2.6 2.6 0 1 0 -5.2 0zM202.1 276.7a2.6 2.6 0 1 0 5.2 0a2.6 2.6 0 1 0 -5.2 0zM203.1 282a2.6 2.6 0 1 0 5.2 0a2.6 2.6 0 1 0 -5.2 0zM204.1 277.3a2.6 2.6 0 1 0 5.2 0a2.6 2.6 0 1 0 -5.2 0zM205.1 271.1a2.6 2.6 0 1 0 5.2 0a2.6 2.6 0 1 0 -5.2 0zM206.1 263.6a2.6 2.6 0 1 0 5.2 0a2.6 2.6 0 1 0 -5.2 0zM207.1 255a2.6 2.6 0 1 0 5.2 0a2.6 2.6 0 1 0 -5.2 0zM208.1 245.6a2.6 2.6 0 1 0 5.2 0a2.6 2.6 0 1 0 -5.2 0zM209.1 235.6a2.6 2.6 0 1 0 5.2 0a2.6 2.6 0 1 0 -5.2 0zM210.1 225.4a2.6 2.6 0 1 0 5.2 0a2.6 2.6 0 1 0 -5.2 0zM211.1 215.4a2.6 2.6 0 1 0 5.2 0a2.6 2.6 0 1 0 -5.2 0zM212.1 206a2.6 2.6 0 1 0 5.2 0a2.6 2.6 0 1 0 -5.2 0zM213.2 197.4a2.6 2.6 0 1 0 5.2 0a2.6 2.6 0 1 0 -5.2 0zM214.2 189.9a2.6 2.6 0 1 0 5.2 0a2.6 2.6 0 1 0 -5.2 0zM215.2 183.7a2.6 2.6 0 1 0 5.2 0a2.6 2.6 0 1 0 -5.2 0zM216.2 179a2.6 2.6 0 1 0 5.2 0a2.6 2.6 0 1 0 -5.2 0zM217.2 182.5a2.6 2.6 0 1 0 5.2 0a2.6 2.6 0 1 0 -5.2 0zM218.2 187.1a2.6 2.6 0 1 0 5.2 0a2.6 2.6 0 1 0 -5.2 0zM219.2 192.7a2.6 2.6 0 1 0 5.2 0a2.6 2.6 0 1 0 -5.2 0zM220.2 199.1a2.6 2.6 0 1 0 5.2 0a2.6 2.6 0 1 0 -5.2 0zM221.2 206.2a2.6 2.6 0 1 0 5.2 0a2.6 2.6 0 1 0 -5.2 0zM222.2 213.5a2.6 2.6 0 1 0 5.2 0a2.6 2.6 0 1 0 -5.2 0zM223.2 220.8a2.6 2.6 0 1 0 5.2 0a2.6 2.6 0 1 0 -5.2 0zM224.2 227.9a2.6 2.6 0 1 0 5.2 0a2.6 2.6 0 1 0 -5.2 0zM225.3 234.3a2.6 2.6 0 1 0 5.2 0a2.6 2.6 0 1 0 -5.2 0zM226.3 239.9a2.6 2.6 0 1 0 5.2 0a2.6 2.6 0 1 0 -5.2 0zM227.3 244.5a2.6 2.6 0 1 0 5.2 0a2.6 2.6 0 1 0 -5.2 0zM228.3 248a2.6 2.6 0 1 0 5.2 0a2.6 2.6 0 1 0 -5.2 0zM229.3 241.6a2.6 2.6 0 1 0 5.2 0a2.6 2.6 0 1 0 -5.2 0zM230.3 232.8a2.6 2.6 0 1 0 5.2 0a2.6 2.6 0 1 0 -5.2 0zM231.3 221.9a2.6 2.6 0 1 0 5.2 0a2.6 2.6 0 1 0 -5.2 0zM232.3 209.6a2.6 2.6 0 1 0 5.2 0a2.6 2.6 0 1 0 -5.2 0zM233.3 196.5a2.6 2.6 0 1 0 5.2 0a2.6 2.6 0 1 0 -5.2 0zM234.3 183.4a2.6 2.6 0 1 0 5.2 0a2.6 2.6 0 1 0 -5.2 0zM235.3 171.1a2.6 2.6 0 1 0 5.2 0a2.6 2.6 0 1 0 -5.2 0zM236.4 160.2a2.6 2.6 0 1 0 5.2 0a2.6 2.6 0 1 0 -5.2 0zM237.4 151.4a2.6 2.6 0 1 0 5.2 0a2.6 2.6 0 1 0 -5.2 0zM238.4 145a2.6 2.6 0 1 0 5.2 0a2.6 2.6 0 1 0 -5.2 0zM239.4 150a2.6 2.6 0 1 0 5.2 0a2.6 2.6 0 1 0 -5.2 0zM240.4 156.5a2.6 2.6 0 1 0 5.2 0a2.6 2.6 0 1 0 -5.2 0zM241.4 164.2a2.6 2.6 0 1 0 5.2 0a2.6 2.6 0 1 0 -5.2 0zM242.4 173.1a2.6 2.6 0 1 0 5.2 0a2.6 2.6 0 1 0 -5.2 0zM243.4 182.9a2.6 2.6 0 1 0 5.2 0a2.6 2.6 0 1 0 -5.2 0zM244.4 193.5a2.6 2.6 0 1 0 5.2 0a2.6 2.6 0 1 0 -5.2 0zM245.4 204.4a2.6 2.6 0 1 0 5.2 0a2.6 2.6 0 1 0 -5.2 0zM246.4 215.6a2.6 2.6 0 1 0 5.2 0a2.6 2.6 0 1 0 -5.2 0zM247.5 226.5a2.6 2.6 0 1 0 5.2 0a2.6 2.6 0 1 0 -5.2 0zM248.5 237.1a2.6 2.6 0 1 0 5.2 0a2.6 2.6 0 1 0 -5.2 0zM249.5 246.9a2.6 2.6 0 1 0 5.2 0a2.6 2.6 0 1 0 -5.2 0zM250.5 255.8a2.6 2.6 0 1 0 5.2 0a2.6 2.6 0 1 0 -5.2 0zM251.5 263.5a2.6 2.6 0 1 0 5.2 0a2.6 2.6 0 1 0 -5.2 0zM252.5 270a2.6 2.6 0 1 0 5.2 0a2.6 2.6 0 1 0 -5.2 0zM253.5 275a2.6 2.6 0 1 0 5.2 0a2.6 2.6 0 1 0 -5.2 0zM254.5 265.3a2.6 2.6 0 1 0 5.2 0a2.6 2.6 0 1 0 -5.2 0zM255.5 252.1a2.6 2.6 0 1 0 5.2 0a2.6 2.6 0 1 0 -5.2 0zM256.5 236a2.6 2.6 0 1 0 5.2 0a2.6 2.6 0 1 0 -5.2 0zM257.5 217.6a2.6 2.6 0 1 0 5.2 0a2.6 2.6 0 1 0 -5.2 0zM258.5 197.7a2.6 2.6 0 1 0 5.2 0a2.6 2.6 0 1 0 -5.2 0zM259.6 177.3a2.6 2.6 0 1 0 5.2 0a2.6 2.6 0 1 0 -5.2 0zM260.6 157.4a2.6 2.6 0 1 0 5.2 0a2.6 2.6 0 1 0 -5.2 0zM261.6 139a2.6 2.6 0 1 0 5.2 0a2.6 2.6 0 1 0 -5.2 0zM262.6 122.9a2.6 2.6 0 1 0 5.2 0a2.6 2.6 0 1 0 -5.2 0zM263.6 109.7a2.6 2.6 0 1 0 5.2 0a2.6 2.6 0 1 0 -5.2 0zM264.6 100a2.6 2.6 0 1 0 5.2 0a2.6 2.6 0 1 0 -5.2 0zM265.6 108.9a2.6 2.6 0 1 0 5.2 0a2.6 2.6 0 1 0 -5.2 0zM266.6 120.5a2.6 2.6 0 1 0 5.2 0a2.6 2.6 0 1 0 -5.2 0zM267.6 134.4a2.6 2.6 0 1 0 5.2 0a2.6 2.6 0 1 0 -5.2 0zM268.6 150.5a2.6 2.6 0 1 0 5.2 0a2.6 2.6 0 1 0 -5.2 0zM269.6 168.2a2.6 2.6 0 1 0 5.2 0a2.6 2.6 0 1 0 -5.2 0zM270.7 187a2.6 2.6 0 1 0 5.2 0a2.6 2.6 0 1 0 -5.2 0zM271.7 206.5a2.6 2.6 0 1 0 5.2 0a2.6 2.6 0 1 0 -5.2 0zM272.7 226a2.6 2.6 0 1 0 5.2 0a2.6 2.6 0 1 0 -5.2 0zM273.7 244.8a2.6 2.6 0 1 0 5.2 0a2.6 2.6 0 1 0 -5.2 0zM274.7 262.5a2.6 2.6 0 1 0 5.2 0a2.6 2.6 0 1 0 -5.2 0zM275.7 278.6a2.6 2.6 0 1 0 5.2 0a2.6 2.6 0 1 0 -5.2 0zM276.7 292.5a2.6 2.6 0 1 0 5.2 0a2.6 2.6 0 1 0 -5.2 0zM277.7 304.1a2.6 2.6 0 1 0 5.2 0a2.6 2.6 0 1 0 -5.2 0zM278.7 313a2.6 2.6 0 1 0 5.2 0a2.6 2.6 0 1 0 -5.2 0zM279.7 305.4a2.6 2.6 0 1 0 5.2 0a2.6 2.6 0 1 0 -5.2 0zM280.7 295.4a2.6 2.6 0 1 0 5.2 0a2.6 2.6 0 1 0 -5.2 0zM281.7 283.2a2.6 2.6 0 1 0 5.2 0a2.6 2.6 0 1 0 -5.2 0zM282.8 269.3a2.6 2.6 0 1 0 5.2 0a2.6 2.6 0 1 0 -5.2 0zM283.8 253.9a2.6 2.6 0 1 0 5.2 0a2.6 2.6 0 1 0 -5.2 0zM284.8 237.7a2.6 2.6 0 1 0 5.2 0a2.6 2.6 0 1 0 -5.2 0zM285.8 221.3a2.6 2.6 0 1 0 5.2 0a2.6 2.6 0 1 0 -5.2 0zM286.8 205.1a2.6 2.6 0 1 0 5.2 0a2.6 2.6 0 1 0 -5.2 0zM287.8 189.7a2.6 2.6 0 1 0 5.2 0a2.6 2.6 0 1 0 -5.2 0zM288.8 175.8a2.6 2.6 0 1 0 5.2 0a2.6 2.6 0 1 0 -5.2 0zM289.8 163.6a2.6 2.6 0 1 0 5.2 0a2.6 2.6 0 1 0 -5.2 0zM290.8 153.6a2.6 2.6 0 1 0 5.2 0a2.6 2.6 0 1 0 -5.2 0zM291.8 146a2.6 2.6 0 1 0 5.2 0a2.6 2.6 0 1 0 -5.2 0zM292.8 153.4a2.6 2.6 0 1 0 5.2 0a2.6 2.6 0 1 0 -5.2 0zM293.9 163a2.6 2.6 0 1 0 5.2 0a2.6 2.6 0 1 0 -5.2 0zM294.9 174.7a2.6 2.6 0 1 0 5.2 0a2.6 2.6 0 1 0 -5.2 0zM295.9 188.2a2.6 2.6 0 1 0 5.2 0a2.6 2.6 0 1 0 -5.2 0zM296.9 202.9a2.6 2.6 0 1 0 5.2 0a2.6 2.6 0 1 0 -5.2 0zM297.9 218.6a2.6 2.6 0 1 0 5.2 0a2.6 2.6 0 1 0 -5.2 0zM298.9 234.4a2.6 2.6 0 1 0 5.2 0a2.6 2.6 0 1 0 -5.2 0zM299.9 250.1a2.6 2.6 0 1 0 5.2 0a2.6 2.6 0 1 0 -5.2 0zM300.9 264.8a2.6 2.6 0 1 0 5.2 0a2.6 2.6 0 1 0 -5.2 0zM301.9 278.3a2.6 2.6 0 1 0 5.2 0a2.6 2.6 0 1 0 -5.2 0zM302.9 290a2.6 2.6 0 1 0 5.2 0a2.6 2.6 0 1 0 -5.2 0zM303.9 299.6a2.6 2.6 0 1 0 5.2 0a2.6 2.6 0 1 0 -5.2 0zM304.9 307a2.6 2.6 0 1 0 5.2 0a2.6 2.6 0 1 0 -5.2 0zM306 298.4a2.6 2.6 0 1 0 5.2 0a2.6 2.6 0 1 0 -5.2 0zM307 287a2.6 2.6 0 1 0 5.2 0a2.6 2.6 0 1 0 -5.2 0zM308 273.1a2.6 2.6 0 1 0 5.2 0a2.6 2.6 0 1 0 -5.2 0zM309 257.1a2.6 2.6 0 1 0 5.2 0a2.6 2.6 0 1 0 -5.2 0zM310 239.7a2.6 2.6 0 1 0 5.2 0a2.6 2.6 0 1 0 -5.2 0zM311 221.5a2.6 2.6 0 1 0 5.2 0a2.6 2.6 0 1 0 -5.2 0zM312 203.3a2.6 2.6 0 1 0 5.2 0a2.6 2.6 0 1 0 -5.2 0zM313 185.9a2.6 2.6 0 1 0 5.2 0a2.6 2.6 0 1 0 -5.2 0zM314 169.9a2.6 2.6 0 1 0 5.2 0a2.6 2.6 0 1 0 -5.2 0zM315 156a2.6 2.6 0 1 0 5.2 0a2.6 2.6 0 1 0 -5.2 0zM316 144.6a2.6 2.6 0 1 0 5.2 0a2.6 2.6 0 1 0 -5.2 0zM317.1 136a2.6 2.6 0 1 0 5.2 0a2.6 2.6 0 1 0 -5.2 0zM318.1 143.7a2.6 2.6 0 1 0 5.2 0a2.6 2.6 0 1 0 -5.2 0zM319.1 153.9a2.6 2.6 0 1 0 5.2 0a2.6 2.6 0 1 0 -5.2 0zM320.1 166.3a2.6 2.6 0 1 0 5.2 0a2.6 2.6 0 1 0 -5.2 0zM321.1 180.6a2.6 2.6 0 1 0 5.2 0a2.6 2.6 0 1 0 -5.2 0zM322.1 196.2a2.6 2.6 0 1 0 5.2 0a2.6 2.6 0 1 0 -5.2 0zM323.1 212.5a2.6 2.6 0 1 0 5.2 0a2.6 2.6 0 1 0 -5.2 0zM324.1 228.8a2.6 2.6 0 1 0 5.2 0a2.6 2.6 0 1 0 -5.2 0zM325.1 244.4a2.6 2.6 0 1 0 5.2 0a2.6 2.6 0 1 0 -5.2 0zM326.1 258.7a2.6 2.6 0 1 0 5.2 0a2.6 2.6 0 1 0 -5.2 0zM327.1 271.1a2.6 2.6 0 1 0 5.2 0a2.6 2.6 0 1 0 -5.2 0zM328.1 281.3a2.6 2.6 0 1 0 5.2 0a2.6 2.6 0 1 0 -5.2 0zM329.2 289a2.6 2.6 0 1 0 5.2 0a2.6 2.6 0 1 0 -5.2 0zM330.2 281.3a2.6 2.6 0 1 0 5.2 0a2.6 2.6 0 1 0 -5.2 0zM331.2 271a2.6 2.6 0 1 0 5.2 0a2.6 2.6 0 1 0 -5.2 0zM332.2 258.5a2.6 2.6 0 1 0 5.2 0a2.6 2.6 0 1 0 -5.2 0zM333.2 244.1a2.6 2.6 0 1 0 5.2 0a2.6 2.6 0 1 0 -5.2 0zM334.2 228.4a2.6 2.6 0 1 0 5.2 0a2.6 2.6 0 1 0 -5.2 0zM335.2 212a2.6 2.6 0 1 0 5.2 0a2.6 2.6 0 1 0 -5.2 0zM336.2 195.6a2.6 2.6 0 1 0 5.2 0a2.6 2.6 0 1 0 -5.2 0zM337.2 179.9a2.6 2.6 0 1 0 5.2 0a2.6 2.6 0 1 0 -5.2 0zM338.2 165.5a2.6 2.6 0 1 0 5.2 0a2.6 2.6 0 1 0 -5.2 0zM339.2 153a2.6 2.6 0 1 0 5.2 0a2.6 2.6 0 1 0 -5.2 0zM340.3 142.7a2.6 2.6 0 1 0 5.2 0a2.6 2.6 0 1 0 -5.2 0zM341.3 135a2.6 2.6 0 1 0 5.2 0a2.6 2.6 0 1 0 -5.2 0zM342.3 141.6a2.6 2.6 0 1 0 5.2 0a2.6 2.6 0 1 0 -5.2 0zM343.3 150.2a2.6 2.6 0 1 0 5.2 0a2.6 2.6 0 1 0 -5.2 0zM344.3 160.7a2.6 2.6 0 1 0 5.2 0a2.6 2.6 0 1 0 -5.2 0zM345.3 172.7a2.6 2.6 0 1 0 5.2 0a2.6 2.6 0 1 0 -5.2 0zM346.3 185.9a2.6 2.6 0 1 0 5.2 0a2.6 2.6 0 1 0 -5.2 0zM347.3 199.9a2.6 2.6 0 1 0 5.2 0a2.6 2.6 0 1 0 -5.2 0zM348.3 214.1a2.6 2.6 0 1 0 5.2 0a2.6 2.6 0 1 0 -5.2 0zM349.3 228.1a2.6 2.6 0 1 0 5.2 0a2.6 2.6 0 1 0 -5.2 0zM350.3 241.3a2.6 2.6 0 1 0 5.2 0a2.6 2.6 0 1 0 -5.2 0zM351.4 253.3a2.6 2.6 0 1 0 5.2 0a2.6 2.6 0 1 0 -5.2 0zM352.4 263.8a2.6 2.6 0 1 0 5.2 0a2.6 2.6 0 1 0 -5.2 0zM353.4 272.4a2.6 2.6 0 1 0 5.2 0a2.6 2.6 0 1 0 -5.2 0zM354.4 279a2.6 2.6 0 1 0 5.2 0a2.6 2.6 0 1 0 -5.2 0zM355.4 272.8a2.6 2.6 0 1 0 5.2 0a2.6 2.6 0 1 0 -5.2 0zM356.4 264.7a2.6 2.6 0 1 0 5.2 0a2.6 2.6 0 1 0 -5.2 0zM357.4 254.9a2.6 2.6 0 1 0 5.2 0a2.6 2.6 0 1 0 -5.2 0zM358.4 243.7a2.6 2.6 0 1 0 5.2 0a2.6 2.6 0 1 0 -5.2 0zM359.4 231.3a2.6 2.6 0 1 0 5.2 0a2.6 2.6 0 1 0 -5.2 0zM360.4 218.2a2.6 2.6 0 1 0 5.2 0a2.6 2.6 0 1 0 -5.2 0zM361.4 204.8a2.6 2.6 0 1 0 5.2 0a2.6 2.6 0 1 0 -5.2 0zM362.4 191.7a2.6 2.6 0 1 0 5.2 0a2.6 2.6 0 1 0 -5.2 0zM363.5 179.3a2.6 2.6 0 1 0 5.2 0a2.6 2.6 0 1 0 -5.2 0zM364.5 168.1a2.6 2.6 0 1 0 5.2 0a2.6 2.6 0 1 0 -5.2 0zM365.5 158.3a2.6 2.6 0 1 0 5.2 0a2.6 2.6 0 1 0 -5.2 0zM366.5 150.2a2.6 2.6 0 1 0 5.2 0a2.6 2.6 0 1 0 -5.2 0zM367.5 144a2.6 2.6 0 1 0 5.2 0a2.6 2.6 0 1 0 -5.2 0zM368.5 151a2.6 2.6 0 1 0 5.2 0a2.6 2.6 0 1 0 -5.2 0zM369.5 160.5a2.6 2.6 0 1 0 5.2 0a2.6 2.6 0 1 0 -5.2 0zM370.5 172.1a2.6 2.6 0 1 0 5.2 0a2.6 2.6 0 1 0 -5.2 0zM371.5 185.3a2.6 2.6 0 1 0 5.2 0a2.6 2.6 0 1 0 -5.2 0zM372.5 199.7a2.6 2.6 0 1 0 5.2 0a2.6 2.6 0 1 0 -5.2 0zM373.5 214.3a2.6 2.6 0 1 0 5.2 0a2.6 2.6 0 1 0 -5.2 0zM374.6 228.7a2.6 2.6 0 1 0 5.2 0a2.6 2.6 0 1 0 -5.2 0zM375.6 241.9a2.6 2.6 0 1 0 5.2 0a2.6 2.6 0 1 0 -5.2 0zM376.6 253.5a2.6 2.6 0 1 0 5.2 0a2.6 2.6 0 1 0 -5.2 0zM377.6 263a2.6 2.6 0 1 0 5.2 0a2.6 2.6 0 1 0 -5.2 0zM378.6 270a2.6 2.6 0 1 0 5.2 0a2.6 2.6 0 1 0 -5.2 0zM379.6 265.1a2.6 2.6 0 1 0 5.2 0a2.6 2.6 0 1 0 -5.2 0zM380.6 258.6a2.6 2.6 0 1 0 5.2 0a2.6 2.6 0 1 0 -5.2 0zM381.6 250.7a2.6 2.6 0 1 0 5.2 0a2.6 2.6 0 1 0 -5.2 0zM382.6 241.7a2.6 2.6 0 1 0 5.2 0a2.6 2.6 0 1 0 -5.2 0zM383.6 231.8a2.6 2.6 0 1 0 5.2 0a2.6 2.6 0 1 0 -5.2 0zM384.6 221.3a2.6 2.6 0 1 0 5.2 0a2.6 2.6 0 1 0 -5.2 0zM385.6 210.7a2.6 2.6 0 1 0 5.2 0a2.6 2.6 0 1 0 -5.2 0zM386.7 200.2a2.6 2.6 0 1 0 5.2 0a2.6 2.6 0 1 0 -5.2 0zM387.7 190.3a2.6 2.6 0 1 0 5.2 0a2.6 2.6 0 1 0 -5.2 0zM388.7 181.3a2.6 2.6 0 1 0 5.2 0a2.6 2.6 0 1 0 -5.2 0zM389.7 173.4a2.6 2.6 0 1 0 5.2 0a2.6 2.6 0 1 0 -5.2 0zM390.7 166.9a2.6 2.6 0 1 0 5.2 0a2.6 2.6 0 1 0 -5.2 0zM391.7 162a2.6 2.6 0 1 0 5.2 0a2.6 2.6 0 1 0 -5.2 0zM392.7 167.2a2.6 2.6 0 1 0 5.2 0a2.6 2.6 0 1 0 -5.2 0zM393.7 173.8a2.6 2.6 0 1 0 5.2 0a2.6 2.6 0 1 0 -5.2 0zM394.7 181.9a2.6 2.6 0 1 0 5.2 0a2.6 2.6 0 1 0 -5.2 0zM395.7 191.1a2.6 2.6 0 1 0 5.2 0a2.6 2.6 0 1 0 -5.2 0zM396.7 201.4a2.6 2.6 0 1 0 5.2 0a2.6 2.6 0 1 0 -5.2 0zM397.8 212.3a2.6 2.6 0 1 0 5.2 0a2.6 2.6 0 1 0 -5.2 0zM398.8 223.5a2.6 2.6 0 1 0 5.2 0a2.6 2.6 0 1 0 -5.2 0zM399.8 234.7a2.6 2.6 0 1 0 5.2 0a2.6 2.6 0 1 0 -5.2 0zM400.8 245.6a2.6 2.6 0 1 0 5.2 0a2.6 2.6 0 1 0 -5.2 0zM401.8 255.9a2.6 2.6 0 1 0 5.2 0a2.6 2.6 0 1 0 -5.2 0zM402.8 265.1a2.6 2.6 0 1 0 5.2 0a2.6 2.6 0 1 0 -5.2 0zM403.8 273.2a2.6 2.6 0 1 0 5.2 0a2.6 2.6 0 1 0 -5.2 0zM404.8 279.8a2.6 2.6 0 1 0 5.2 0a2.6 2.6 0 1 0 -5.2 0zM405.8 285a2.6 2.6 0 1 0 5.2 0a2.6 2.6 0 1 0 -5.2 0zM406.8 272.7a2.6 2.6 0 1 0 5.2 0a2.6 2.6 0 1 0 -5.2 0zM407.8 255.7a2.6 2.6 0 1 0 5.2 0a2.6 2.6 0 1 0 -5.2 0zM408.8 234.9a2.6 2.6 0 1 0 5.2 0a2.6 2.6 0 1 0 -5.2 0zM409.9 211.2a2.6 2.6 0 1 0 5.2 0a2.6 2.6 0 1 0 -5.2 0zM410.9 186a2.6 2.6 0 1 0 5.2 0a2.6 2.6 0 1 0 -5.2 0zM411.9 160.8a2.6 2.6 0 1 0 5.2 0a2.6 2.6 0 1 0 -5.2 0zM412.9 137.1a2.6 2.6 0 1 0 5.2 0a2.6 2.6 0 1 0 -5.2 0zM413.9 116.3a2.6 2.6 0 1 0 5.2 0a2.6 2.6 0 1 0 -5.2 0zM414.9 99.3a2.6 2.6 0 1 0 5.2 0a2.6 2.6 0 1 0 -5.2 0zM415.9 87a2.6 2.6 0 1 0 5.2 0a2.6 2.6 0 1 0 -5.2 0zM416.9 95a2.6 2.6 0 1 0 5.2 0a2.6 2.6 0 1 0 -5.2 0zM417.9 105.2a2.6 2.6 0 1 0 5.2 0a2.6 2.6 0 1 0 -5.2 0zM418.9 117.4a2.6 2.6 0 1 0 5.2 0a2.6 2.6 0 1 0 -5.2 0zM419.9 131.5a2.6 2.6 0 1 0 5.2 0a2.6 2.6 0 1 0 -5.2 0zM421 147.1a2.6 2.6 0 1 0 5.2 0a2.6 2.6 0 1 0 -5.2 0zM422 163.8a2.6 2.6 0 1 0 5.2 0a2.6 2.6 0 1 0 -5.2 0zM423 181.2a2.6 2.6 0 1 0 5.2 0a2.6 2.6 0 1 0 -5.2 0zM424 198.8a2.6 2.6 0 1 0 5.2 0a2.6 2.6 0 1 0 -5.2 0zM425 216.2a2.6 2.6 0 1 0 5.2 0a2.6 2.6 0 1 0 -5.2 0zM426 232.9a2.6 2.6 0 1 0 5.2 0a2.6 2.6 0 1 0 -5.2 0zM427 248.5a2.6 2.6 0 1 0 5.2 0a2.6 2.6 0 1 0 -5.2 0zM428 262.6a2.6 2.6 0 1 0 5.2 0a2.6 2.6 0 1 0 -5.2 0zM429 274.8a2.6 2.6 0 1 0 5.2 0a2.6 2.6 0 1 0 -5.2 0zM430 285a2.6 2.6 0 1 0 5.2 0a2.6 2.6 0 1 0 -5.2 0zM431 293a2.6 2.6 0 1 0 5.2 0a2.6 2.6 0 1 0 -5.2 0zM432.1 284.7a2.6 2.6 0 1 0 5.2 0a2.6 2.6 0 1 0 -5.2 0zM433.1 273.6a2.6 2.6 0 1 0 5.2 0a2.6 2.6 0 1 0 -5.2 0zM434.1 260.1a2.6 2.6 0 1 0 5.2 0a2.6 2.6 0 1 0 -5.2 0zM435.1 244.6a2.6 2.6 0 1 0 5.2 0a2.6 2.6 0 1 0 -5.2 0zM436.1 227.7a2.6 2.6 0 1 0 5.2 0a2.6 2.6 0 1 0 -5.2 0zM437.1 210a2.6 2.6 0 1 0 5.2 0a2.6 2.6 0 1 0 -5.2 0zM438.1 192.3a2.6 2.6 0 1 0 5.2 0a2.6 2.6 0 1 0 -5.2 0zM439.1 175.4a2.6 2.6 0 1 0 5.2 0a2.6 2.6 0 1 0 -5.2 0zM440.1 159.9a2.6 2.6 0 1 0 5.2 0a2.6 2.6 0 1 0 -5.2 0zM441.1 146.4a2.6 2.6 0 1 0 5.2 0a2.6 2.6 0 1 0 -5.2 0zM442.1 135.3a2.6 2.6 0 1 0 5.2 0a2.6 2.6 0 1 0 -5.2 0zM443.1 127a2.6 2.6 0 1 0 5.2 0a2.6 2.6 0 1 0 -5.2 0zM444.2 134.5a2.6 2.6 0 1 0 5.2 0a2.6 2.6 0 1 0 -5.2 0zM445.2 144.2a2.6 2.6 0 1 0 5.2 0a2.6 2.6 0 1 0 -5.2 0zM446.2 156.1a2.6 2.6 0 1 0 5.2 0a2.6 2.6 0 1 0 -5.2 0zM447.2 169.7a2.6 2.6 0 1 0 5.2 0a2.6 2.6 0 1 0 -5.2 0zM448.2 184.6a2.6 2.6 0 1 0 5.2 0a2.6 2.6 0 1 0 -5.2 0zM449.2 200.5a2.6 2.6 0 1 0 5.2 0a2.6 2.6 0 1 0 -5.2 0zM450.2 216.5a2.6 2.6 0 1 0 5.2 0a2.6 2.6 0 1 0 -5.2 0zM451.2 232.4a2.6 2.6 0 1 0 5.2 0a2.6 2.6 0 1 0 -5.2 0zM452.2 247.3a2.6 2.6 0 1 0 5.2 0a2.6 2.6 0 1 0 -5.2 0zM453.2 260.9a2.6 2.6 0 1 0 5.2 0a2.6 2.6 0 1 0 -5.2 0zM454.2 272.8a2.6 2.6 0 1 0 5.2 0a2.6 2.6 0 1 0 -5.2 0zM455.3 282.5a2.6 2.6 0 1 0 5.2 0a2.6 2.6 0 1 0 -5.2 0zM456.3 290a2.6 2.6 0 1 0 5.2 0a2.6 2.6 0 1 0 -5.2 0zM457.3 283.8a2.6 2.6 0 1 0 5.2 0a2.6 2.6 0 1 0 -5.2 0zM458.3 275.7a2.6 2.6 0 1 0 5.2 0a2.6 2.6 0 1 0 -5.2 0zM459.3 265.9a2.6 2.6 0 1 0 5.2 0a2.6 2.6 0 1 0 -5.2 0zM460.3 254.7a2.6 2.6 0 1 0 5.2 0a2.6 2.6 0 1 0 -5.2 0zM461.3 242.3a2.6 2.6 0 1 0 5.2 0a2.6 2.6 0 1 0 -5.2 0zM462.3 229.2a2.6 2.6 0 1 0 5.2 0a2.6 2.6 0 1 0 -5.2 0zM463.3 215.8a2.6 2.6 0 1 0 5.2 0a2.6 2.6 0 1 0 -5.2 0zM464.3 202.7a2.6 2.6 0 1 0 5.2 0a2.6 2.6 0 1 0 -5.2 0zM465.3 190.3a2.6 2.6 0 1 0 5.2 0a2.6 2.6 0 1 0 -5.2 0zM466.3 179.1a2.6 2.6 0 1 0 5.2 0a2.6 2.6 0 1 0 -5.2 0zM467.4 169.3a2.6 2.6 0 1 0 5.2 0a2.6 2.6 0 1 0 -5.2 0zM468.4 161.2a2.6 2.6 0 1 0 5.2 0a2.6 2.6 0 1 0 -5.2 0zM469.4 155a2.6 2.6 0 1 0 5.2 0a2.6 2.6 0 1 0 -5.2 0zM470.4 161a2.6 2.6 0 1 0 5.2 0a2.6 2.6 0 1 0 -5.2 0zM471.4 168.9a2.6 2.6 0 1 0 5.2 0a2.6 2.6 0 1 0 -5.2 0zM472.4 178.5a2.6 2.6 0 1 0 5.2 0a2.6 2.6 0 1 0 -5.2 0zM473.4 189.6a2.6 2.6 0 1 0 5.2 0a2.6 2.6 0 1 0 -5.2 0zM474.4 201.7a2.6 2.6 0 1 0 5.2 0a2.6 2.6 0 1 0 -5.2 0zM475.4 214.5a2.6 2.6 0 1 0 5.2 0a2.6 2.6 0 1 0 -5.2 0zM476.4 227.5a2.6 2.6 0 1 0 5.2 0a2.6 2.6 0 1 0 -5.2 0zM477.4 240.3a2.6 2.6 0 1 0 5.2 0a2.6 2.6 0 1 0 -5.2 0zM478.5 252.4a2.6 2.6 0 1 0 5.2 0a2.6 2.6 0 1 0 -5.2 0zM479.5 263.5a2.6 2.6 0 1 0 5.2 0a2.6 2.6 0 1 0 -5.2 0zM480.5 273.1a2.6 2.6 0 1 0 5.2 0a2.6 2.6 0 1 0 -5.2 0zM481.5 281a2.6 2.6 0 1 0 5.2 0a2.6 2.6 0 1 0 -5.2 0zM482.5 287a2.6 2.6 0 1 0 5.2 0a2.6 2.6 0 1 0 -5.2 0zM483.5 280.4a2.6 2.6 0 1 0 5.2 0a2.6 2.6 0 1 0 -5.2 0zM484.5 271.7a2.6 2.6 0 1 0 5.2 0a2.6 2.6 0 1 0 -5.2 0zM485.5 261a2.6 2.6 0 1 0 5.2 0a2.6 2.6 0 1 0 -5.2 0zM486.5 248.8a2.6 2.6 0 1 0 5.2 0a2.6 2.6 0 1 0 -5.2 0zM487.5 235.4a2.6 2.6 0 1 0 5.2 0a2.6 2.6 0 1 0 -5.2 0zM488.5 221.5a2.6 2.6 0 1 0 5.2 0a2.6 2.6 0 1 0 -5.2 0zM489.6 207.6a2.6 2.6 0 1 0 5.2 0a2.6 2.6 0 1 0 -5.2 0zM490.6 194.2a2.6 2.6 0 1 0 5.2 0a2.6 2.6 0 1 0 -5.2 0zM491.6 182a2.6 2.6 0 1 0 5.2 0a2.6 2.6 0 1 0 -5.2 0zM492.6 171.3a2.6 2.6 0 1 0 5.2 0a2.6 2.6 0 1 0 -5.2 0zM493.6 162.6a2.6 2.6 0 1 0 5.2 0a2.6 2.6 0 1 0 -5.2 0zM494.6 156a2.6 2.6 0 1 0 5.2 0a2.6 2.6 0 1 0 -5.2 0zM495.6 162.9a2.6 2.6 0 1 0 5.2 0a2.6 2.6 0 1 0 -5.2 0zM496.6 172.1a2.6 2.6 0 1 0 5.2 0a2.6 2.6 0 1 0 -5.2 0zM497.6 183.4a2.6 2.6 0 1 0 5.2 0a2.6 2.6 0 1 0 -5.2 0zM498.6 196.2a2.6 2.6 0 1 0 5.2 0a2.6 2.6 0 1 0 -5.2 0zM499.6 210.3a2.6 2.6 0 1 0 5.2 0a2.6 2.6 0 1 0 -5.2 0zM500.6 225a2.6 2.6 0 1 0 5.2 0a2.6 2.6 0 1 0 -5.2 0zM501.7 239.7a2.6 2.6 0 1 0 5.2 0a2.6 2.6 0 1 0 -5.2 0zM502.7 253.8a2.6 2.6 0 1 0 5.2 0a2.6 2.6 0 1 0 -5.2 0zM503.7 266.6a2.6 2.6 0 1 0 5.2 0a2.6 2.6 0 1 0 -5.2 0zM504.7 277.9a2.6 2.6 0 1 0 5.2 0a2.6 2.6 0 1 0 -5.2 0zM505.7 287.1a2.6 2.6 0 1 0 5.2 0a2.6 2.6 0 1 0 -5.2 0zM506.7 294a2.6 2.6 0 1 0 5.2 0a2.6 2.6 0 1 0 -5.2 0zM507.7 287.6a2.6 2.6 0 1 0 5.2 0a2.6 2.6 0 1 0 -5.2 0zM508.7 279.2a2.6 2.6 0 1 0 5.2 0a2.6 2.6 0 1 0 -5.2 0zM509.7 269a2.6 2.6 0 1 0 5.2 0a2.6 2.6 0 1 0 -5.2 0zM510.7 257.3a2.6 2.6 0 1 0 5.2 0a2.6 2.6 0 1 0 -5.2 0zM511.7 244.5a2.6 2.6 0 1 0 5.2 0a2.6 2.6 0 1 0 -5.2 0zM512.8 230.9a2.6 2.6 0 1 0 5.2 0a2.6 2.6 0 1 0 -5.2 0zM513.8 217.1a2.6 2.6 0 1 0 5.2 0a2.6 2.6 0 1 0 -5.2 0zM514.8 203.5a2.6 2.6 0 1 0 5.2 0a2.6 2.6 0 1 0 -5.2 0zM515.8 190.7a2.6 2.6 0 1 0 5.2 0a2.6 2.6 0 1 0 -5.2 0zM516.8 179a2.6 2.6 0 1 0 5.2 0a2.6 2.6 0 1 0 -5.2 0zM517.8 168.8a2.6 2.6 0 1 0 5.2 0a2.6 2.6 0 1 0 -5.2 0zM518.8 160.4a2.6 2.6 0 1 0 5.2 0a2.6 2.6 0 1 0 -5.2 0zM519.8 154a2.6 2.6 0 1 0 5.2 0a2.6 2.6 0 1 0 -5.2 0zM520.8 161a2.6 2.6 0 1 0 5.2 0a2.6 2.6 0 1 0 -5.2 0zM521.8 170.5a2.6 2.6 0 1 0 5.2 0a2.6 2.6 0 1 0 -5.2 0zM522.8 182.3a2.6 2.6 0 1 0 5.2 0a2.6 2.6 0 1 0 -5.2 0zM523.8 195.7a2.6 2.6 0 1 0 5.2 0a2.6 2.6 0 1 0 -5.2 0zM524.9 210a2.6 2.6 0 1 0 5.2 0a2.6 2.6 0 1 0 -5.2 0zM525.9 224.3a2.6 2.6 0 1 0 5.2 0a2.6 2.6 0 1 0 -5.2 0zM526.9 237.7a2.6 2.6 0 1 0 5.2 0a2.6 2.6 0 1 0 -5.2 0zM527.9 249.5a2.6 2.6 0 1 0 5.2 0a2.6 2.6 0 1 0 -5.2 0zM528.9 259a2.6 2.6 0 1 0 5.2 0a2.6 2.6 0 1 0 -5.2 0zM529.9 266a2.6 2.6 0 1 0 5.2 0a2.6 2.6 0 1 0 -5.2 0z" fill="#ec3538"/>
<path d="M129 280 130 275 131 268.4 132 260.4 133 251.1 134 241 135.1 230.5 136.1 220 137.1 209.9 138.1 200.6 139.1 192.6 140.1 186 141.1 181 142.1 188 143.1 197.4 144.1 208.8 145.1 221.8 146.1 236.1 147.2 251 148.2 265.9 149.2 280.2 150.2 293.2 151.2 304.6 152.2 314 153.2 321 154.2 311.7 155.2 299.6 156.2 285.1 157.2 268.4 158.3 249.9 159.3 230.3 160.3 210 161.3 189.7 162.3 170.1 163.3 151.6 164.3 134.9 165.3 120.4 166.3 108.3 167.3 99 168.3 108.6 169.3 121.4 170.4 137.1 171.4 155 172.4 174.6 173.4 195 174.4 215.4 175.4 235 176.4 252.9 177.4 268.6 178.4 281.4 179.4 291 180.4 282.7 181.5 271.9 182.5 258.8 183.5 243.7 184.5 227.2 185.5 209.7 186.5 191.8 187.5 174.3 188.5 157.8 189.5 142.7 190.5 129.6 191.5 118.8 192.6 110.5 193.6 119 194.6 130.4 195.6 144.5 196.6 160.5 197.6 177.9 198.6 195.6 199.6 213 200.6 229 201.6 243.1 202.6 254.5 203.6 263 204.7 253.7 205.7 241.6 206.7 227.1 207.7 210.4 208.7 191.9 209.7 172.3 210.7 152 211.7 131.7 212.7 112.1 213.7 93.6 214.7 76.9 215.8 62.4 216.8 50.3 217.8 41 218.8 51.3 219.8 64.7 220.8 80.8 221.8 99.3 222.8 119.7 223.8 141.5 224.8 164 225.8 186.5 226.8 208.3 227.9 228.7 228.9 247.2 229.9 263.3 230.9 276.7 231.9 287 232.9 279.6 233.9 269.8 234.9 257.9 235.9 244.1 236.9 229.1 237.9 213.5 239 197.9 240 182.9 241 169.1 242 157.2 243 147.4 244 140 245 148 246 158.5 247 171.3 248 186 249 202.1 250.1 219.1 251.1 236.4 252.1 253.4 253.1 269.5 254.1 284.2 255.1 297 256.1 307.5 257.1 315.5 258.1 308 259.1 298.3 260.1 286.4 261.1 272.8 262.2 257.9 263.2 242 264.2 226 265.2 210.1 266.2 195.2 267.2 181.6 268.2 169.7 269.2 160 270.2 152.5 271.2 159.9 272.2 169.7 273.3 181.7 274.3 195.5 275.3 210.6 276.3 226.2 277.3 241.9 278.3 257 279.3 270.8 280.3 282.8 281.3 292.6 282.3 300 283.3 293.4 284.3 284.5 285.4 273.7 286.4 261.4 287.4 247.8 288.4 233.7 289.4 219.7 290.4 206.1 291.4 193.8 292.4 183 293.4 174.1 294.4 167.5 295.4 173.8 296.5 182.2 297.5 192.5 298.5 204.4 299.5 217.2 300.5 230.3 301.5 243.1 302.5 255 303.5 265.3 304.5 273.7 305.5 280 306.5 274 307.5 266.1 308.6 256.4 309.6 245.3 310.6 233.2 311.6 220.5 312.6 207.8 313.6 195.7 314.6 184.6 315.6 174.9 316.6 167 317.6 161 318.6 167.8 319.7 176.8 320.7 187.6 321.7 200.1 322.7 213.9 323.7 228.4 324.7 243.1 325.7 257.6 326.7 271.4 327.7 283.9 328.7 294.7 329.7 303.7 330.8 310.5 331.8 305.1 332.8 298 333.8 289.5 334.8 279.6 335.8 268.8 336.8 257.3 337.8 245.7 338.8 234.2 339.8 223.4 340.8 213.5 341.8 205 342.9 197.9 343.9 192.5 344.9 198.2 345.9 205.6 346.9 214.7 347.9 225.1 348.9 236.5 349.9 248.6 350.9 260.9 351.9 273 352.9 284.4 354 294.8 355 303.9 356 311.3 357 317 358 310.1 359 301.1 360 290.1 361 277.5 362 263.6 363 249 364 234 365 219.4 366.1 205.5 367.1 192.9 368.1 181.9 369.1 172.9 370.1 166 371.1 172.9 372.1 182.3 373.1 193.7 374.1 206.8 375.1 221 376.1 235.5 377.2 249.7 378.2 262.8 379.2 274.2 380.2 283.6 381.2 290.5 382.2 283.8 383.2 275.1 384.2 264.5 385.2 252.5 386.2 239.1 387.2 224.9 388.2 210.2 389.3 195.6 390.3 181.4 391.3 168 392.3 156 393.3 145.4 394.3 136.7 395.3 130 396.3 137.7 397.3 147.7 398.3 159.9 399.3 174 400.4 189.4 401.4 205.7 402.4 222.3 403.4 238.6 404.4 254 405.4 268.1 406.4 280.3 407.4 290.3 408.4 298 409.4 287 410.4 272.4 411.4 254.6 412.5 234.1 413.5 211.8 414.5 188.5 415.5 165.2 416.5 142.9 417.5 122.4 418.5 104.6 419.5 90 420.5 79 421.5 89.4 422.5 103.3 423.6 120.2 424.6 139.7 425.6 160.9 426.6 183 427.6 205.1 428.6 226.3 429.6 245.8 430.6 262.7 431.6 276.6 432.6 287 433.6 278.5 434.7 267.4 435.7 253.8 436.7 238.3 437.7 221.2 438.7 203.2 439.7 184.8 440.7 166.8 441.7 149.7 442.7 134.2 443.7 120.6 444.7 109.5 445.7 101 446.8 110.3 447.8 122.4 448.8 137.2 449.8 154.2 450.8 172.8 451.8 192.5 452.8 212.5 453.8 232.2 454.8 250.8 455.8 267.8 456.8 282.6 457.9 294.7 458.9 304 459.9 295.2 460.9 283.7 461.9 269.8 462.9 253.7 463.9 236.1 464.9 217.5 465.9 198.5 466.9 179.9 467.9 162.3 468.9 146.2 470 132.3 471 120.8 472 112 473 120.4 474 131.4 475 144.7 476 160 477 176.9 478 194.7 479 212.8 480 230.6 481.1 247.5 482.1 262.8 483.1 276.1 484.1 287.1 485.1 295.5 486.1 287.5 487.1 276.9 488.1 263.9 489.1 249 490.1 232.7 491.1 215.8 492.2 198.8 493.2 182.5 494.2 167.6 495.2 154.6 496.2 144 497.2 136 498.2 143.3 499.2 152.9 500.2 164.6 501.2 178.1 502.2 192.9 503.2 208.2 504.3 223.6 505.3 238.4 506.3 251.9 507.3 263.6 508.3 273.2 509.3 280.5 510.3 276.2 511.3 270.7 512.3 264.1 513.3 256.4 514.3 248 515.4 239 516.4 229.7 517.4 220.5 518.4 211.5 519.4 203.1 520.4 195.4 521.4 188.8 522.4 183.3 523.4 179 524.4 184.3 525.4 191.7 526.4 200.9 527.5 211.2 528.5 221.8 529.5 232.1 530.5 241.3 531.5 248.7 532.5 254" stroke="#1c68dc" stroke-width="1.2"/>
<path d="M129 276.9l2.9 5.2h-5.7zM130 271.9l2.9 5.2h-5.7zM131 265.3l2.9 5.2h-5.7zM132 257.3l2.9 5.2h-5.7zM133 248l2.9 5.2h-5.7zM134 237.9l2.9 5.2h-5.7zM135.1 227.4l2.9 5.2h-5.7zM136.1 216.8l2.9 5.2h-5.7zM137.1 206.8l2.9 5.2h-5.7zM138.1 197.5l2.9 5.2h-5.7zM139.1 189.4l2.9 5.2h-5.7zM140.1 182.8l2.9 5.2h-5.7zM141.1 177.9l2.9 5.2h-5.7zM142.1 184.9l2.9 5.2h-5.7zM143.1 194.2l2.9 5.2h-5.7zM144.1 205.6l2.9 5.2h-5.7zM145.1 218.7l2.9 5.2h-5.7zM146.1 233l2.9 5.2h-5.7zM147.2 247.9l2.9 5.2h-5.7zM148.2 262.8l2.9 5.2h-5.7zM149.2 277l2.9 5.2h-5.7zM150.2 290.1l2.9 5.2h-5.7zM151.2 301.5l2.9 5.2h-5.7zM152.2 310.9l2.9 5.2h-5.7zM153.2 317.9l2.9 5.2h-5.7zM154.2 308.6l2.9 5.2h-5.7zM155.2 296.5l2.9 5.2h-5.7zM156.2 282l2.9 5.2h-5.7zM157.2 265.3l2.9 5.2h-5.7zM158.3 246.8l2.9 5.2h-5.7zM159.3 227.2l2.9 5.2h-5.7zM160.3 206.9l2.9 5.2h-5.7zM161.3 186.6l2.9 5.2h-5.7zM162.3 166.9l2.9 5.2h-5.7zM163.3 148.5l2.9 5.2h-5.7zM164.3 131.8l2.9 5.2h-5.7zM165.3 117.2l2.9 5.2h-5.7zM166.3 105.2l2.9 5.2h-5.7zM167.3 95.9l2.9 5.2h-5.7zM168.3 105.5l2.9 5.2h-5.7zM169.3 118.3l2.9 5.2h-5.7zM170.4 133.9l2.9 5.2h-5.7zM171.4 151.9l2.9 5.2h-5.7zM172.4 171.5l2.9 5.2h-5.7zM173.4 191.9l2.9 5.2h-5.7zM174.4 212.3l2.9 5.2h-5.7zM175.4 231.9l2.9 5.2h-5.7zM176.4 249.8l2.9 5.2h-5.7zM177.4 265.4l2.9 5.2h-5.7zM178.4 278.2l2.9 5.2h-5.7zM179.4 287.9l2.9 5.2h-5.7zM180.4 279.6l2.9 5.2h-5.7zM181.5 268.8l2.9 5.2h-5.7zM182.5 255.7l2.9 5.2h-5.7zM183.5 240.6l2.9 5.2h-5.7zM184.5 224l2.9 5.2h-5.7zM185.5 206.5l2.9 5.2h-5.7zM186.5 188.7l2.9 5.2h-5.7zM187.5 171.2l2.9 5.2h-5.7zM188.5 154.6l2.9 5.2h-5.7zM189.5 139.6l2.9 5.2h-5.7zM190.5 126.4l2.9 5.2h-5.7zM191.5 115.6l2.9 5.2h-5.7zM192.6 107.4l2.9 5.2h-5.7zM193.6 115.9l2.9 5.2h-5.7zM194.6 127.3l2.9 5.2h-5.7zM195.6 141.3l2.9 5.2h-5.7zM196.6 157.4l2.9 5.2h-5.7zM197.6 174.7l2.9 5.2h-5.7zM198.6 192.5l2.9 5.2h-5.7zM199.6 209.9l2.9 5.2h-5.7zM200.6 225.9l2.9 5.2h-5.7zM201.6 240l2.9 5.2h-5.7zM202.6 251.4l2.9 5.2h-5.7zM203.6 259.9l2.9 5.2h-5.7zM204.7 250.6l2.9 5.2h-5.7zM205.7 238.5l2.9 5.2h-5.7zM206.7 224l2.9 5.2h-5.7zM207.7 207.3l2.9 5.2h-5.7zM208.7 188.8l2.9 5.2h-5.7zM209.7 169.2l2.9 5.2h-5.7zM210.7 148.9l2.9 5.2h-5.7zM211.7 128.6l2.9 5.2h-5.7zM212.7 108.9l2.9 5.2h-5.7zM213.7 90.5l2.9 5.2h-5.7zM214.7 73.8l2.9 5.2h-5.7zM215.8 59.2l2.9 5.2h-5.7zM216.8 47.2l2.9 5.2h-5.7zM217.8 37.9l2.9 5.2h-5.7zM218.8 48.2l2.9 5.2h-5.7zM219.8 61.5l2.9 5.2h-5.7zM220.8 77.7l2.9 5.2h-5.7zM221.8 96.2l2.9 5.2h-5.7zM222.8 116.6l2.9 5.2h-5.7zM223.8 138.4l2.9 5.2h-5.7zM224.8 160.9l2.9 5.2h-5.7zM225.8 183.4l2.9 5.2h-5.7zM226.8 205.1l2.9 5.2h-5.7zM227.9 225.6l2.9 5.2h-5.7zM228.9 244.1l2.9 5.2h-5.7zM229.9 260.2l2.9 5.2h-5.7zM230.9 273.6l2.9 5.2h-5.7zM231.9 283.9l2.9 5.2h-5.7zM232.9 276.5l2.9 5.2h-5.7zM233.9 266.7l2.9 5.2h-5.7zM234.9 254.7l2.9 5.2h-5.7zM235.9 241l2.9 5.2h-5.7zM236.9 226l2.9 5.2h-5.7zM237.9 210.4l2.9 5.2h-5.7zM239 194.7l2.9 5.2h-5.7zM240 179.8l2.9 5.2h-5.7zM241 166l2.9 5.2h-5.7zM242 154.1l2.9 5.2h-5.7zM243 144.3l2.9 5.2h-5.7zM244 136.9l2.9 5.2h-5.7zM245 144.9l2.9 5.2h-5.7zM246 155.4l2.9 5.2h-5.7zM247 168.2l2.9 5.2h-5.7zM248 182.8l2.9 5.2h-5.7zM249 198.9l2.9 5.2h-5.7zM250.1 216l2.9 5.2h-5.7zM251.1 233.3l2.9 5.2h-5.7zM252.1 250.3l2.9 5.2h-5.7zM253.1 266.4l2.9 5.2h-5.7zM254.1 281.1l2.9 5.2h-5.7zM255.1 293.9l2.9 5.2h-5.7zM256.1 304.4l2.9 5.2h-5.7zM257.1 312.4l2.9 5.2h-5.7zM258.1 304.9l2.9 5.2h-5.7zM259.1 295.2l2.9 5.2h-5.7zM260.1 283.3l2.9 5.2h-5.7zM261.1 269.7l2.9 5.2h-5.7zM262.2 254.7l2.9 5.2h-5.7zM263.2 238.9l2.9 5.2h-5.7zM264.2 222.8l2.9 5.2h-5.7zM265.2 207l2.9 5.2h-5.7zM266.2 192.1l2.9 5.2h-5.7zM267.2 178.4l2.9 5.2h-5.7zM268.2 166.6l2.9 5.2h-5.7zM269.2 156.8l2.9 5.2h-5.7zM270.2 149.4l2.9 5.2h-5.7zM271.2 156.8l2.9 5.2h-5.7zM272.2 166.6l2.9 5.2h-5.7zM273.3 178.6l2.9 5.2h-5.7zM274.3 192.4l2.9 5.2h-5.7zM275.3 207.4l2.9 5.2h-5.7zM276.3 223.1l2.9 5.2h-5.7zM277.3 238.8l2.9 5.2h-5.7zM278.3 253.9l2.9 5.2h-5.7zM279.3 267.6l2.9 5.2h-5.7zM280.3 279.6l2.9 5.2h-5.7zM281.3 289.5l2.9 5.2h-5.7zM282.3 296.9l2.9 5.2h-5.7zM283.3 290.2l2.9 5.2h-5.7zM284.3 281.4l2.9 5.2h-5.7zM285.4 270.6l2.9 5.2h-5.7zM286.4 258.2l2.9 5.2h-5.7zM287.4 244.7l2.9 5.2h-5.7zM288.4 230.6l2.9 5.2h-5.7zM289.4 216.5l2.9 5.2h-5.7zM290.4 203l2.9 5.2h-5.7zM291.4 190.6l2.9 5.2h-5.7zM292.4 179.9l2.9 5.2h-5.7zM293.4 171l2.9 5.2h-5.7zM294.4 164.4l2.9 5.2h-5.7zM295.4 170.6l2.9 5.2h-5.7zM296.5 179.1l2.9 5.2h-5.7zM297.5 189.4l2.9 5.2h-5.7zM298.5 201.3l2.9 5.2h-5.7zM299.5 214.1l2.9 5.2h-5.7zM300.5 227.2l2.9 5.2h-5.7zM301.5 240l2.9 5.2h-5.7zM302.5 251.8l2.9 5.2h-5.7zM303.5 262.2l2.9 5.2h-5.7zM304.5 270.6l2.9 5.2h-5.7zM305.5 276.9l2.9 5.2h-5.7zM306.5 270.9l2.9 5.2h-5.7zM307.5 263l2.9 5.2h-5.7zM308.6 253.3l2.9 5.2h-5.7zM309.6 242.2l2.9 5.2h-5.7zM310.6 230l2.9 5.2h-5.7zM311.6 217.4l2.9 5.2h-5.7zM312.6 204.7l2.9 5.2h-5.7zM313.6 192.6l2.9 5.2h-5.7zM314.6 181.5l2.9 5.2h-5.7zM315.6 171.8l2.9 5.2h-5.7zM316.6 163.9l2.9 5.2h-5.7zM317.6 157.9l2.9 5.2h-5.7zM318.6 164.7l2.9 5.2h-5.7zM319.7 173.7l2.9 5.2h-5.7zM320.7 184.5l2.9 5.2h-5.7zM321.7 197l2.9 5.2h-5.7zM322.7 210.8l2.9 5.2h-5.7zM323.7 225.2l2.9 5.2h-5.7zM324.7 240l2.9 5.2h-5.7zM325.7 254.5l2.9 5.2h-5.7zM326.7 268.2l2.9 5.2h-5.7zM327.7 280.7l2.9 5.2h-5.7zM328.7 291.6l2.9 5.2h-5.7zM329.7 300.5l2.9 5.2h-5.7zM330.8 307.4l2.9 5.2h-5.7zM331.8 302l2.9 5.2h-5.7zM332.8 294.9l2.9 5.2h-5.7zM333.8 286.3l2.9 5.2h-5.7zM334.8 276.5l2.9 5.2h-5.7zM335.8 265.6l2.9 5.2h-5.7zM336.8 254.2l2.9 5.2h-5.7zM337.8 242.6l2.9 5.2h-5.7zM338.8 231.1l2.9 5.2h-5.7zM339.8 220.3l2.9 5.2h-5.7zM340.8 210.4l2.9 5.2h-5.7zM341.8 201.8l2.9 5.2h-5.7zM342.9 194.8l2.9 5.2h-5.7zM343.9 189.4l2.9 5.2h-5.7zM344.9 195.1l2.9 5.2h-5.7zM345.9 202.5l2.9 5.2h-5.7zM346.9 211.6l2.9 5.2h-5.7zM347.9 222l2.9 5.2h-5.7zM348.9 233.4l2.9 5.2h-5.7zM349.9 245.5l2.9 5.2h-5.7zM350.9 257.8l2.9 5.2h-5.7zM351.9 269.8l2.9 5.2h-5.7zM352.9 281.3l2.9 5.2h-5.7zM354 291.7l2.9 5.2h-5.7zM355 300.7l2.9 5.2h-5.7zM356 308.2l2.9 5.2h-5.7zM357 313.9l2.9 5.2h-5.7zM358 307l2.9 5.2h-5.7zM359 297.9l2.9 5.2h-5.7zM360 287l2.9 5.2h-5.7zM361 274.3l2.9 5.2h-5.7zM362 260.5l2.9 5.2h-5.7zM363 245.8l2.9 5.2h-5.7zM364 230.9l2.9 5.2h-5.7zM365 216.3l2.9 5.2h-5.7zM366.1 202.4l2.9 5.2h-5.7zM367.1 189.8l2.9 5.2h-5.7zM368.1 178.8l2.9 5.2h-5.7zM369.1 169.8l2.9 5.2h-5.7zM370.1 162.9l2.9 5.2h-5.7zM371.1 169.8l2.9 5.2h-5.7zM372.1 179.1l2.9 5.2h-5.7zM373.1 190.6l2.9 5.2h-5.7zM374.1 203.7l2.9 5.2h-5.7zM375.1 217.9l2.9 5.2h-5.7zM376.1 232.4l2.9 5.2h-5.7zM377.2 246.5l2.9 5.2h-5.7zM378.2 259.7l2.9 5.2h-5.7zM379.2 271.1l2.9 5.2h-5.7zM380.2 280.5l2.9 5.2h-5.7zM381.2 287.4l2.9 5.2h-5.7zM382.2 280.6l2.9 5.2h-5.7zM383.2 271.9l2.9 5.2h-5.7zM384.2 261.4l2.9 5.2h-5.7zM385.2 249.3l2.9 5.2h-5.7zM386.2 236l2.9 5.2h-5.7zM387.2 221.8l2.9 5.2h-5.7zM388.2 207.1l2.9 5.2h-5.7zM389.3 192.5l2.9 5.2h-5.7zM390.3 178.3l2.9 5.2h-5.7zM391.3 164.9l2.9 5.2h-5.7zM392.3 152.8l2.9 5.2h-5.7zM393.3 142.3l2.9 5.2h-5.7zM394.3 133.6l2.9 5.2h-5.7zM395.3 126.9l2.9 5.2h-5.7zM396.3 134.6l2.9 5.2h-5.7zM397.3 144.6l2.9 5.2h-5.7zM398.3 156.8l2.9 5.2h-5.7zM399.3 170.9l2.9 5.2h-5.7zM400.4 186.3l2.9 5.2h-5.7zM401.4 202.6l2.9 5.2h-5.7zM402.4 219.2l2.9 5.2h-5.7zM403.4 235.5l2.9 5.2h-5.7zM404.4 250.9l2.9 5.2h-5.7zM405.4 264.9l2.9 5.2h-5.7zM406.4 277.1l2.9 5.2h-5.7zM407.4 287.2l2.9 5.2h-5.7zM408.4 294.9l2.9 5.2h-5.7zM409.4 283.9l2.9 5.2h-5.7zM410.4 269.3l2.9 5.2h-5.7zM411.4 251.5l2.9 5.2h-5.7zM412.5 231l2.9 5.2h-5.7zM413.5 208.7l2.9 5.2h-5.7zM414.5 185.4l2.9 5.2h-5.7zM415.5 162.1l2.9 5.2h-5.7zM416.5 139.8l2.9 5.2h-5.7zM417.5 119.3l2.9 5.2h-5.7zM418.5 101.5l2.9 5.2h-5.7zM419.5 86.9l2.9 5.2h-5.7zM420.5 75.9l2.9 5.2h-5.7zM421.5 86.3l2.9 5.2h-5.7zM422.5 100.2l2.9 5.2h-5.7zM423.6 117.1l2.9 5.2h-5.7zM424.6 136.5l2.9 5.2h-5.7zM425.6 157.8l2.9 5.2h-5.7zM426.6 179.9l2.9 5.2h-5.7zM427.6 202l2.9 5.2h-5.7zM428.6 223.2l2.9 5.2h-5.7zM429.6 242.6l2.9 5.2h-5.7zM430.6 259.6l2.9 5.2h-5.7zM431.6 273.4l2.9 5.2h-5.7zM432.6 283.9l2.9 5.2h-5.7zM433.6 275.4l2.9 5.2h-5.7zM434.7 264.2l2.9 5.2h-5.7zM435.7 250.7l2.9 5.2h-5.7zM436.7 235.2l2.9 5.2h-5.7zM437.7 218.1l2.9 5.2h-5.7zM438.7 200.1l2.9 5.2h-5.7zM439.7 181.7l2.9 5.2h-5.7zM440.7 163.7l2.9 5.2h-5.7zM441.7 146.6l2.9 5.2h-5.7zM442.7 131l2.9 5.2h-5.7zM443.7 117.5l2.9 5.2h-5.7zM444.7 106.4l2.9 5.2h-5.7zM445.7 97.9l2.9 5.2h-5.7zM446.8 107.2l2.9 5.2h-5.7zM447.8 119.3l2.9 5.2h-5.7zM448.8 134.1l2.9 5.2h-5.7zM449.8 151l2.9 5.2h-5.7zM450.8 169.7l2.9 5.2h-5.7zM451.8 189.4l2.9 5.2h-5.7zM452.8 209.4l2.9 5.2h-5.7zM453.8 229.1l2.9 5.2h-5.7zM454.8 247.7l2.9 5.2h-5.7zM455.8 264.7l2.9 5.2h-5.7zM456.8 279.5l2.9 5.2h-5.7zM457.9 291.6l2.9 5.2h-5.7zM458.9 300.9l2.9 5.2h-5.7zM459.9 292.1l2.9 5.2h-5.7zM460.9 280.6l2.9 5.2h-5.7zM461.9 266.7l2.9 5.2h-5.7zM462.9 250.6l2.9 5.2h-5.7zM463.9 233l2.9 5.2h-5.7zM464.9 214.4l2.9 5.2h-5.7zM465.9 195.4l2.9 5.2h-5.7zM466.9 176.8l2.9 5.2h-5.7zM467.9 159.2l2.9 5.2h-5.7zM468.9 143.1l2.9 5.2h-5.7zM470 129.1l2.9 5.2h-5.7zM471 117.7l2.9 5.2h-5.7zM472 108.9l2.9 5.2h-5.7zM473 117.3l2.9 5.2h-5.7zM474 128.3l2.9 5.2h-5.7zM475 141.6l2.9 5.2h-5.7zM476 156.9l2.9 5.2h-5.7zM477 173.8l2.9 5.2h-5.7zM478 191.6l2.9 5.2h-5.7zM479 209.7l2.9 5.2h-5.7zM480 227.5l2.9 5.2h-5.7zM481.1 244.3l2.9 5.2h-5.7zM482.1 259.7l2.9 5.2h-5.7zM483.1 273l2.9 5.2h-5.7zM484.1 284l2.9 5.2h-5.7zM485.1 292.4l2.9 5.2h-5.7zM486.1 284.4l2.9 5.2h-5.7zM487.1 273.7l2.9 5.2h-5.7zM488.1 260.8l2.9 5.2h-5.7zM489.1 245.9l2.9 5.2h-5.7zM490.1 229.6l2.9 5.2h-5.7zM491.1 212.6l2.9 5.2h-5.7zM492.2 195.7l2.9 5.2h-5.7zM493.2 179.4l2.9 5.2h-5.7zM494.2 164.5l2.9 5.2h-5.7zM495.2 151.5l2.9 5.2h-5.7zM496.2 140.9l2.9 5.2h-5.7zM497.2 132.9l2.9 5.2h-5.7zM498.2 140.1l2.9 5.2h-5.7zM499.2 149.8l2.9 5.2h-5.7zM500.2 161.5l2.9 5.2h-5.7zM501.2 175l2.9 5.2h-5.7zM502.2 189.8l2.9 5.2h-5.7zM503.2 205.1l2.9 5.2h-5.7zM504.3 220.5l2.9 5.2h-5.7zM505.3 235.2l2.9 5.2h-5.7zM506.3 248.7l2.9 5.2h-5.7zM507.3 260.5l2.9 5.2h-5.7zM508.3 270.1l2.9 5.2h-5.7zM509.3 277.4l2.9 5.2h-5.7zM510.3 273.1l2.9 5.2h-5.7zM511.3 267.6l2.9 5.2h-5.7zM512.3 261l2.9 5.2h-5.7zM513.3 253.3l2.9 5.2h-5.7zM514.3 244.9l2.9 5.2h-5.7zM515.4 235.9l2.9 5.2h-5.7zM516.4 226.6l2.9 5.2h-5.7zM517.4 217.4l2.9 5.2h-5.7zM518.4 208.4l2.9 5.2h-5.7zM519.4 199.9l2.9 5.2h-5.7zM520.4 192.3l2.9 5.2h-5.7zM521.4 185.6l2.9 5.2h-5.7zM522.4 180.1l2.9 5.2h-5.7zM523.4 175.9l2.9 5.2h-5.7zM524.4 181.2l2.9 5.2h-5.7zM525.4 188.6l2.9 5.2h-5.7zM526.4 197.8l2.9 5.2h-5.7zM527.5 208l2.9 5.2h-5.7zM528.5 218.7l2.9 5.2h-5.7zM529.5 229l2.9 5.2h-5.7zM530.5 238.2l2.9 5.2h-5.7zM531.5 245.6l2.9 5.2h-5.7zM532.5 250.9l2.9 5.2h-5.7z" fill="#1c6ae0"/>
</g>
<rect x="119.3" y="11.1" width="423.4" height="340.2" fill="none" stroke="#000" stroke-width="2.5"/>
<path d="M120.5 34.4h4.6M541.5 34.4h-4.6M120.5 82.4h4.6M541.5 82.4h-4.6M120.5 130.4h4.6M541.5 130.4h-4.6M120.5 178.4h4.6M541.5 178.4h-4.6M120.5 226.4h4.6M541.5 226.4h-4.6M120.5 274.4h4.6M541.5 274.4h-4.6M120.5 322.4h4.6M541.5 322.4h-4.6M120.5 58.4h2.6M541.5 58.4h-2.6M120.5 106.4h2.6M541.5 106.4h-2.6M120.5 154.4h2.6M541.5 154.4h-2.6M120.5 202.4h2.6M541.5 202.4h-2.6M120.5 250.4h2.6M541.5 250.4h-2.6M120.5 298.4h2.6M541.5 298.4h-2.6M120.5 346.4h2.6M541.5 346.4h-2.6M129.0 349.5v-4.6M129.0 12.2v4.6M229.9 349.5v-4.6M229.9 12.2v4.6M330.8 349.5v-4.6M330.8 12.2v4.6M431.6 349.5v-4.6M431.6 12.2v4.6M532.5 349.5v-4.6M532.5 12.2v4.6M179.4 349.5v-2.6M179.4 12.2v2.6M280.3 349.5v-2.6M280.3 12.2v2.6M381.2 349.5v-2.6M381.2 12.2v2.6M482.1 349.5v-2.6M482.1 12.2v2.6" stroke="#000" stroke-width="2.2" fill="none"/>
<g font-family='"Liberation Serif", "Times New Roman", serif' font-size="24" fill="#000">
<text x="112.3" y="44.2" text-anchor="end">2.6<tspan letter-spacing="1.2">×</tspan>10<tspan font-size="14" dy="-7.6">4</tspan></text>
<text x="112.3" y="92.2" text-anchor="end">2.5<tspan letter-spacing="1.2">×</tspan>10<tspan font-size="14" dy="-7.6">4</tspan></text>
<text x="112.3" y="140.2" text-anchor="end">2.4<tspan letter-spacing="1.2">×</tspan>10<tspan font-size="14" dy="-7.6">4</tspan></text>
<text x="112.3" y="188.2" text-anchor="end">2.3<tspan letter-spacing="1.2">×</tspan>10<tspan font-size="14" dy="-7.6">4</tspan></text>
<text x="112.3" y="236.2" text-anchor="end">2.2<tspan letter-spacing="1.2">×</tspan>10<tspan font-size="14" dy="-7.6">4</tspan></text>
<text x="112.3" y="284.2" text-anchor="end">2.0<tspan letter-spacing="1.2">×</tspan>10<tspan font-size="14" dy="-7.6">4</tspan></text>
<text x="112.3" y="332.2" text-anchor="end">1.9<tspan letter-spacing="1.2">×</tspan>10<tspan font-size="14" dy="-7.6">4</tspan></text>
<text x="129.0" y="377" text-anchor="middle">0</text>
<text x="229.9" y="377" text-anchor="middle">10</text>
<text x="330.8" y="377" text-anchor="middle">20</text>
<text x="431.6" y="377" text-anchor="middle">30</text>
<text x="532.5" y="377" text-anchor="middle">40</text>
<text x="331.5" y="405.6" text-anchor="middle" font-size="24.4">Time (ms)</text>
<text transform="translate(24.2 180.4) rotate(-90)" text-anchor="middle" font-size="23.8">Pressure (pa)</text>
</g>
<path d="M380.5 29.2H432" stroke="#888" stroke-width="2"/>
<path d="M403.4 26.9h4.6v4.6h-4.6z" fill="#3a3a3a"/>
<text x="437.5" y="36.8" font-family='"Liberation Serif", "Times New Roman", serif' font-size="22.3" fill="#000">first test</text>
<path d="M380.5 56.8H432" stroke="#c84848" stroke-width="2"/>
<path d="M403.1 56.8a2.6 2.6 0 1 0 5.2 0a2.6 2.6 0 1 0 -5.2 0z" fill="#ec3538"/>
<text x="437.5" y="64.4" font-family='"Liberation Serif", "Times New Roman", serif' font-size="22.3" fill="#000">second test</text>
<path d="M380.5 84.5H432" stroke="#1c68dc" stroke-width="2"/>
<path d="M405.7 81.3l3 5.4h-5.9z" fill="#1c6ae0"/>
<text x="437.5" y="92.1" font-family='"Liberation Serif", "Times New Roman", serif' font-size="22.3" fill="#000">third test</text>
<text x="275.6" y="465" text-anchor="middle" font-family='"Liberation Serif", serif' font-size="29.5" fill="#000">(<tspan font-weight="bold" font-size="27">a</tspan>)</text>
</svg>
</body></html>
